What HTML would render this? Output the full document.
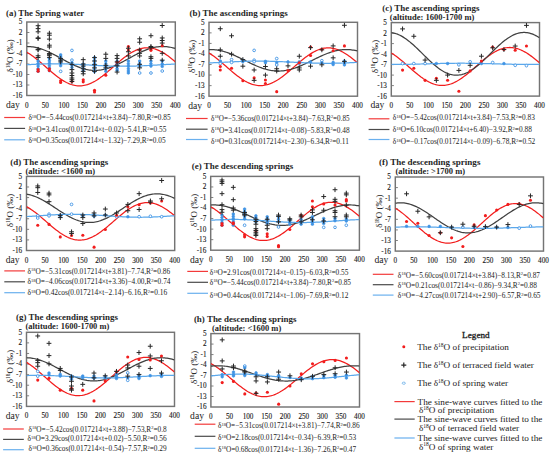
<!DOCTYPE html>
<html><head><meta charset="utf-8"><style>
html,body{margin:0;padding:0;background:#fff;}
body{width:550px;height:456px;overflow:hidden;font-family:"Liberation Serif", serif;}
svg{display:block;}
text{font-family:"Liberation Serif", serif;}
</style></head><body>
<svg width="550" height="456" viewBox="0 0 550 456" font-family="Liberation Serif, serif" fill="#1a1a1a"><rect x="26.80" y="22.00" width="148.50" height="73.50" fill="none" stroke="#747474" stroke-width="1.45"/>
<text x="22.40" y="24.40" font-size="7.2" stroke="#1a1a1a" stroke-width="0.12" text-anchor="end">5</text>
<path d="M26.80 32.50h2.6" stroke="#747474" stroke-width="0.9"/>
<text x="22.40" y="34.90" font-size="7.2" stroke="#1a1a1a" stroke-width="0.12" text-anchor="end">2</text>
<path d="M26.80 43.00h2.6" stroke="#747474" stroke-width="0.9"/>
<text x="22.40" y="45.40" font-size="7.2" stroke="#1a1a1a" stroke-width="0.12" text-anchor="end">-1</text>
<path d="M26.80 53.50h2.6" stroke="#747474" stroke-width="0.9"/>
<text x="22.40" y="55.90" font-size="7.2" stroke="#1a1a1a" stroke-width="0.12" text-anchor="end">-4</text>
<path d="M26.80 64.00h2.6" stroke="#747474" stroke-width="0.9"/>
<text x="22.40" y="66.40" font-size="7.2" stroke="#1a1a1a" stroke-width="0.12" text-anchor="end">-7</text>
<path d="M26.80 74.50h2.6" stroke="#747474" stroke-width="0.9"/>
<text x="22.40" y="76.90" font-size="7.2" stroke="#1a1a1a" stroke-width="0.12" text-anchor="end">-10</text>
<path d="M26.80 85.00h2.6" stroke="#747474" stroke-width="0.9"/>
<text x="22.40" y="87.40" font-size="7.2" stroke="#1a1a1a" stroke-width="0.12" text-anchor="end">-13</text>
<text x="22.40" y="97.90" font-size="7.2" stroke="#1a1a1a" stroke-width="0.12" text-anchor="end">-16</text>
<text x="26.80" y="107.50" font-size="7.2" stroke="#1a1a1a" stroke-width="0.12" text-anchor="middle">0</text>
<text x="45.36" y="107.50" font-size="7.2" stroke="#1a1a1a" stroke-width="0.12" text-anchor="middle">50</text>
<text x="63.92" y="107.50" font-size="7.2" stroke="#1a1a1a" stroke-width="0.12" text-anchor="middle">100</text>
<text x="82.49" y="107.50" font-size="7.2" stroke="#1a1a1a" stroke-width="0.12" text-anchor="middle">150</text>
<text x="101.05" y="107.50" font-size="7.2" stroke="#1a1a1a" stroke-width="0.12" text-anchor="middle">200</text>
<text x="119.61" y="107.50" font-size="7.2" stroke="#1a1a1a" stroke-width="0.12" text-anchor="middle">250</text>
<text x="138.18" y="107.50" font-size="7.2" stroke="#1a1a1a" stroke-width="0.12" text-anchor="middle">300</text>
<text x="156.74" y="107.50" font-size="7.2" stroke="#1a1a1a" stroke-width="0.12" text-anchor="middle">350</text>
<text x="175.30" y="107.50" font-size="7.2" stroke="#1a1a1a" stroke-width="0.12" text-anchor="middle">400</text>
<text x="6.00" y="107.80" font-size="9.6">day</text>
<text transform="translate(13.20 55.85) rotate(-90)" font-size="9.0" text-anchor="middle">&#948;<tspan font-size="5.4" dy="-3.0">18</tspan><tspan dy="3.0">O (&#8240;)</tspan></text>
<clipPath id="ca"><rect x="26.80" y="22.00" width="148.50" height="73.50"/></clipPath>
<g clip-path="url(#ca)">
<polyline points="26.80,52.22 28.04,52.94 29.28,53.72 30.51,54.53 31.75,55.39 32.99,56.28 34.23,57.21 35.46,58.16 36.70,59.15 37.94,60.16 39.17,61.20 40.41,62.25 41.65,63.32 42.89,64.40 44.12,65.49 45.36,66.58 46.60,67.67 47.84,68.76 49.08,69.84 50.31,70.91 51.55,71.97 52.79,73.02 54.03,74.04 55.26,75.04 56.50,76.01 57.74,76.95 58.97,77.86 60.21,78.73 61.45,79.56 62.69,80.35 63.92,81.09 65.16,81.79 66.40,82.44 67.64,83.04 68.88,83.58 70.11,84.07 71.35,84.50 72.59,84.87 73.83,85.19 75.06,85.44 76.30,85.63 77.54,85.76 78.78,85.83 80.01,85.83 81.25,85.78 82.49,85.66 83.72,85.47 84.96,85.23 86.20,84.93 87.44,84.56 88.67,84.14 89.91,83.66 91.15,83.13 92.39,82.54 93.62,81.90 94.86,81.21 96.10,80.47 97.34,79.69 98.58,78.86 99.81,78.00 101.05,77.09 102.29,76.16 103.52,75.19 104.76,74.20 106.00,73.18 107.24,72.14 108.47,71.08 109.71,70.01 110.95,68.93 112.19,67.84 113.42,66.75 114.66,65.66 115.90,64.57 117.14,63.49 118.38,62.42 119.61,61.36 120.85,60.33 122.09,59.31 123.33,58.32 124.56,57.36 125.80,56.42 127.04,55.52 128.28,54.66 129.51,53.84 130.75,53.06 131.99,52.33 133.22,51.64 134.46,51.01 135.70,50.42 136.94,49.89 138.18,49.42 139.41,49.00 140.65,48.64 141.89,48.34 143.12,48.11 144.36,47.93 145.60,47.82 146.84,47.76 148.08,47.77 149.31,47.85 150.55,47.98 151.79,48.18 153.03,48.44 154.26,48.76 155.50,49.14 156.74,49.57 157.98,50.07 159.21,50.62 160.45,51.22 161.69,51.87 162.93,52.57 164.16,53.32 165.40,54.12 166.64,54.95 167.88,55.83 169.11,56.74 170.35,57.68 171.59,58.65 172.83,59.65 174.06,60.68 175.30,61.72" fill="none" stroke="#f21d1d" stroke-width="1.25"/>
<polyline points="26.80,46.50 28.04,46.51 29.28,46.55 30.51,46.64 31.75,46.76 32.99,46.92 34.23,47.12 35.46,47.36 36.70,47.63 37.94,47.94 39.17,48.28 40.41,48.66 41.65,49.07 42.89,49.51 44.12,49.98 45.36,50.48 46.60,51.00 47.84,51.55 49.08,52.12 50.31,52.71 51.55,53.32 52.79,53.94 54.03,54.59 55.26,55.24 56.50,55.90 57.74,56.58 58.97,57.26 60.21,57.94 61.45,58.62 62.69,59.31 63.92,59.99 65.16,60.67 66.40,61.33 67.64,61.99 68.88,62.64 70.11,63.27 71.35,63.89 72.59,64.49 73.83,65.07 75.06,65.63 76.30,66.16 77.54,66.67 78.78,67.15 80.01,67.61 81.25,68.03 82.49,68.42 83.72,68.78 84.96,69.10 86.20,69.39 87.44,69.65 88.67,69.86 89.91,70.04 91.15,70.18 92.39,70.28 93.62,70.35 94.86,70.37 96.10,70.35 97.34,70.30 98.58,70.21 99.81,70.07 101.05,69.90 102.29,69.69 103.52,69.45 104.76,69.16 106.00,68.85 107.24,68.50 108.47,68.11 109.71,67.69 110.95,67.25 112.19,66.77 113.42,66.27 114.66,65.74 115.90,65.18 117.14,64.61 118.38,64.01 119.61,63.40 120.85,62.77 122.09,62.12 123.33,61.47 124.56,60.80 125.80,60.12 127.04,59.44 128.28,58.76 129.51,58.08 130.75,57.39 131.99,56.71 133.22,56.04 134.46,55.37 135.70,54.71 136.94,54.07 138.18,53.44 139.41,52.83 140.65,52.23 141.89,51.66 143.12,51.10 144.36,50.58 145.60,50.07 146.84,49.60 148.08,49.15 149.31,48.74 150.55,48.36 151.79,48.01 153.03,47.69 154.26,47.41 155.50,47.17 156.74,46.96 157.98,46.79 159.21,46.66 160.45,46.57 161.69,46.51 162.93,46.50 164.16,46.53 165.40,46.59 166.64,46.69 167.88,46.84 169.11,47.02 170.35,47.24 171.59,47.49 172.83,47.78 174.06,48.11 175.30,48.47" fill="none" stroke="#404040" stroke-width="1.25"/>
<polyline points="26.80,64.71 28.04,64.64 29.28,64.58 30.51,64.51 31.75,64.45 32.99,64.39 34.23,64.33 35.46,64.27 36.70,64.22 37.94,64.16 39.17,64.12 40.41,64.07 41.65,64.03 42.89,63.99 44.12,63.95 45.36,63.92 46.60,63.89 47.84,63.86 49.08,63.84 50.31,63.82 51.55,63.81 52.79,63.80 54.03,63.79 55.26,63.79 56.50,63.79 57.74,63.80 58.97,63.81 60.21,63.82 61.45,63.84 62.69,63.86 63.92,63.89 65.16,63.92 66.40,63.95 67.64,63.99 68.88,64.03 70.11,64.07 71.35,64.12 72.59,64.16 73.83,64.22 75.06,64.27 76.30,64.33 77.54,64.39 78.78,64.45 80.01,64.51 81.25,64.58 82.49,64.64 83.72,64.71 84.96,64.78 86.20,64.85 87.44,64.92 88.67,64.99 89.91,65.06 91.15,65.13 92.39,65.20 93.62,65.27 94.86,65.34 96.10,65.40 97.34,65.47 98.58,65.53 99.81,65.60 101.05,65.66 102.29,65.72 103.52,65.77 104.76,65.83 106.00,65.88 107.24,65.93 108.47,65.97 109.71,66.01 110.95,66.05 112.19,66.09 113.42,66.12 114.66,66.15 115.90,66.17 117.14,66.19 118.38,66.21 119.61,66.22 120.85,66.23 122.09,66.24 123.33,66.24 124.56,66.24 125.80,66.23 127.04,66.22 128.28,66.20 129.51,66.18 130.75,66.16 131.99,66.14 133.22,66.11 134.46,66.07 135.70,66.03 136.94,65.99 138.18,65.95 139.41,65.90 140.65,65.85 141.89,65.80 143.12,65.75 144.36,65.69 145.60,65.63 146.84,65.57 148.08,65.50 149.31,65.44 150.55,65.37 151.79,65.30 153.03,65.23 154.26,65.16 155.50,65.09 156.74,65.02 157.98,64.95 159.21,64.88 160.45,64.81 161.69,64.75 162.93,64.68 164.16,64.61 165.40,64.54 166.64,64.48 167.88,64.42 169.11,64.36 170.35,64.30 171.59,64.24 172.83,64.19 174.06,64.14 175.30,64.09" fill="none" stroke="#5aa8ec" stroke-width="1.25"/>
<circle cx="38.09" cy="61.02" r="1.35" fill="#3f93e4" stroke="#3f93e4" stroke-width="0.6"/>
<circle cx="38.09" cy="63.58" r="1.35" fill="#3f93e4" stroke="#3f93e4" stroke-width="0.6"/>
<circle cx="38.09" cy="66.10" r="1.35" fill="#3f93e4" stroke="#3f93e4" stroke-width="0.6"/>
<circle cx="38.09" cy="68.72" r="1.35" fill="#3f93e4" stroke="#3f93e4" stroke-width="0.6"/>
<circle cx="38.09" cy="71.28" r="1.35" fill="#3f93e4" stroke="#3f93e4" stroke-width="0.6"/>
<circle cx="38.09" cy="69.60" r="1.55" fill="#f21d1d"/>
<circle cx="38.09" cy="71.28" r="1.55" fill="#f21d1d"/>
<path d="M35.69 25.71H40.49M38.09 23.31V28.11" stroke="#262626" stroke-width="1.0"/>
<path d="M35.69 28.62H40.49M38.09 26.22V31.02" stroke="#262626" stroke-width="1.0"/>
<path d="M35.69 31.80H40.49M38.09 29.40V34.20" stroke="#262626" stroke-width="1.0"/>
<path d="M35.69 37.92H40.49M38.09 35.52V40.32" stroke="#262626" stroke-width="1.0"/>
<path d="M35.69 38.45H40.49M38.09 36.05V40.85" stroke="#262626" stroke-width="1.0"/>
<path d="M35.69 49.30H40.49M38.09 46.90V51.70" stroke="#262626" stroke-width="1.0"/>
<path d="M35.69 49.83H40.49M38.09 47.43V52.23" stroke="#262626" stroke-width="1.0"/>
<path d="M35.69 55.81H40.49M38.09 53.41V58.21" stroke="#262626" stroke-width="1.0"/>
<path d="M35.69 57.49H40.49M38.09 55.09V59.89" stroke="#262626" stroke-width="1.0"/>
<circle cx="49.37" cy="58.40" r="1.35" fill="#3f93e4" stroke="#3f93e4" stroke-width="0.6"/>
<circle cx="49.37" cy="60.85" r="1.35" fill="#3f93e4" stroke="#3f93e4" stroke-width="0.6"/>
<circle cx="49.37" cy="63.30" r="1.35" fill="#3f93e4" stroke="#3f93e4" stroke-width="0.6"/>
<circle cx="49.37" cy="65.75" r="1.35" fill="#3f93e4" stroke="#3f93e4" stroke-width="0.6"/>
<circle cx="49.37" cy="68.20" r="1.35" fill="#3f93e4" stroke="#3f93e4" stroke-width="0.6"/>
<circle cx="49.37" cy="70.65" r="1.35" fill="#3f93e4" stroke="#3f93e4" stroke-width="0.6"/>
<circle cx="49.37" cy="68.72" r="1.55" fill="#f21d1d"/>
<circle cx="49.37" cy="70.44" r="1.55" fill="#f21d1d"/>
<path d="M46.97 33.20H51.77M49.37 30.80V35.60" stroke="#262626" stroke-width="1.0"/>
<path d="M46.97 35.20H51.77M49.37 32.80V37.59" stroke="#262626" stroke-width="1.0"/>
<path d="M46.97 39.11H51.77M49.37 36.71V41.51" stroke="#262626" stroke-width="1.0"/>
<path d="M46.97 45.20H51.77M49.37 42.80V47.60" stroke="#262626" stroke-width="1.0"/>
<path d="M46.97 46.99H51.77M49.37 44.59V49.39" stroke="#262626" stroke-width="1.0"/>
<path d="M46.97 53.61H51.77M49.37 51.21V56.01" stroke="#262626" stroke-width="1.0"/>
<path d="M46.97 54.20H51.77M49.37 51.80V56.60" stroke="#262626" stroke-width="1.0"/>
<path d="M46.97 55.29H51.77M49.37 52.89V57.69" stroke="#262626" stroke-width="1.0"/>
<path d="M46.97 57.35H51.77M49.37 54.95V59.75" stroke="#262626" stroke-width="1.0"/>
<circle cx="60.66" cy="54.90" r="1.35" fill="#3f93e4" stroke="#3f93e4" stroke-width="0.6"/>
<circle cx="60.66" cy="56.65" r="1.35" fill="#3f93e4" stroke="#3f93e4" stroke-width="0.6"/>
<circle cx="60.66" cy="58.40" r="1.35" fill="#3f93e4" stroke="#3f93e4" stroke-width="0.6"/>
<circle cx="60.66" cy="60.85" r="1.35" fill="#3f93e4" stroke="#3f93e4" stroke-width="0.6"/>
<circle cx="60.66" cy="63.30" r="1.35" fill="#3f93e4" stroke="#3f93e4" stroke-width="0.6"/>
<circle cx="60.66" cy="65.75" r="1.35" fill="#3f93e4" stroke="#3f93e4" stroke-width="0.6"/>
<circle cx="60.66" cy="71.35" r="1.35" fill="white" stroke="#3f93e4" stroke-width="0.9"/>
<circle cx="60.66" cy="80.80" r="1.55" fill="#f21d1d"/>
<circle cx="60.66" cy="82.55" r="1.55" fill="#f21d1d"/>
<path d="M58.26 58.40H63.06M60.66 56.00V60.80" stroke="#262626" stroke-width="1.0"/>
<path d="M58.26 60.15H63.06M60.66 57.75V62.55" stroke="#262626" stroke-width="1.0"/>
<path d="M58.26 61.90H63.06M60.66 59.50V64.30" stroke="#262626" stroke-width="1.0"/>
<circle cx="71.94" cy="50.42" r="1.35" fill="white" stroke="#3f93e4" stroke-width="0.9"/>
<circle cx="71.94" cy="60.15" r="1.35" fill="white" stroke="#3f93e4" stroke-width="0.9"/>
<circle cx="71.94" cy="62.60" r="1.35" fill="#3f93e4" stroke="#3f93e4" stroke-width="0.6"/>
<circle cx="71.94" cy="65.30" r="1.35" fill="#3f93e4" stroke="#3f93e4" stroke-width="0.6"/>
<circle cx="71.94" cy="67.50" r="1.35" fill="#3f93e4" stroke="#3f93e4" stroke-width="0.6"/>
<circle cx="71.94" cy="81.50" r="1.55" fill="#f21d1d"/>
<path d="M69.54 64.45H74.34M71.94 62.05V66.86" stroke="#262626" stroke-width="1.0"/>
<path d="M69.54 69.60H74.34M71.94 67.20V72.00" stroke="#262626" stroke-width="1.0"/>
<path d="M69.54 73.00H74.34M71.94 70.59V75.40" stroke="#262626" stroke-width="1.0"/>
<path d="M69.54 75.55H74.34M71.94 73.15V77.95" stroke="#262626" stroke-width="1.0"/>
<path d="M69.54 78.00H74.34M71.94 75.60V80.40" stroke="#262626" stroke-width="1.0"/>
<path d="M69.54 79.75H74.34M71.94 77.35V82.15" stroke="#262626" stroke-width="1.0"/>
<path d="M69.54 81.50H74.34M71.94 79.10V83.90" stroke="#262626" stroke-width="1.0"/>
<circle cx="83.23" cy="64.00" r="1.35" fill="#3f93e4" stroke="#3f93e4" stroke-width="0.6"/>
<circle cx="83.23" cy="66.10" r="1.35" fill="#3f93e4" stroke="#3f93e4" stroke-width="0.6"/>
<circle cx="83.23" cy="68.55" r="1.35" fill="#3f93e4" stroke="#3f93e4" stroke-width="0.6"/>
<circle cx="83.23" cy="71.00" r="1.35" fill="#3f93e4" stroke="#3f93e4" stroke-width="0.6"/>
<circle cx="83.23" cy="79.75" r="1.55" fill="#f21d1d"/>
<circle cx="83.23" cy="81.85" r="1.55" fill="#f21d1d"/>
<path d="M80.83 59.66H85.63M83.23 57.26V62.06" stroke="#262626" stroke-width="1.0"/>
<path d="M80.83 64.00H85.63M83.23 61.60V66.40" stroke="#262626" stroke-width="1.0"/>
<path d="M80.83 66.10H85.63M83.23 63.70V68.50" stroke="#262626" stroke-width="1.0"/>
<path d="M80.83 68.72H85.63M83.23 66.32V71.12" stroke="#262626" stroke-width="1.0"/>
<path d="M80.83 71.35H85.63M83.23 68.95V73.75" stroke="#262626" stroke-width="1.0"/>
<path d="M80.83 73.80H85.63M83.23 71.40V76.20" stroke="#262626" stroke-width="1.0"/>
<circle cx="94.52" cy="57.70" r="1.35" fill="#3f93e4" stroke="#3f93e4" stroke-width="0.6"/>
<circle cx="94.52" cy="60.50" r="1.35" fill="#3f93e4" stroke="#3f93e4" stroke-width="0.6"/>
<circle cx="94.52" cy="63.30" r="1.35" fill="#3f93e4" stroke="#3f93e4" stroke-width="0.6"/>
<circle cx="94.52" cy="66.10" r="1.35" fill="#3f93e4" stroke="#3f93e4" stroke-width="0.6"/>
<circle cx="94.52" cy="68.90" r="1.35" fill="#3f93e4" stroke="#3f93e4" stroke-width="0.6"/>
<circle cx="94.52" cy="71.70" r="1.35" fill="#3f93e4" stroke="#3f93e4" stroke-width="0.6"/>
<circle cx="94.52" cy="90.25" r="1.55" fill="#f21d1d"/>
<circle cx="94.52" cy="92.00" r="1.55" fill="#f21d1d"/>
<path d="M92.12 57.59H96.92M94.52 55.20V59.99" stroke="#262626" stroke-width="1.0"/>
<path d="M92.12 61.02H96.92M94.52 58.62V63.42" stroke="#262626" stroke-width="1.0"/>
<path d="M92.12 64.70H96.92M94.52 62.30V67.10" stroke="#262626" stroke-width="1.0"/>
<path d="M92.12 67.85H96.92M94.52 65.45V70.25" stroke="#262626" stroke-width="1.0"/>
<path d="M92.12 71.35H96.92M94.52 68.95V73.75" stroke="#262626" stroke-width="1.0"/>
<circle cx="105.80" cy="61.02" r="1.35" fill="#3f93e4" stroke="#3f93e4" stroke-width="0.6"/>
<circle cx="105.80" cy="63.65" r="1.35" fill="#3f93e4" stroke="#3f93e4" stroke-width="0.6"/>
<circle cx="105.80" cy="66.10" r="1.35" fill="#3f93e4" stroke="#3f93e4" stroke-width="0.6"/>
<circle cx="105.80" cy="68.72" r="1.35" fill="#3f93e4" stroke="#3f93e4" stroke-width="0.6"/>
<circle cx="105.80" cy="71.28" r="1.35" fill="#3f93e4" stroke="#3f93e4" stroke-width="0.6"/>
<circle cx="105.80" cy="75.20" r="1.55" fill="#f21d1d"/>
<path d="M103.40 54.20H108.20M105.80 51.80V56.60" stroke="#262626" stroke-width="1.0"/>
<path d="M103.40 58.40H108.20M105.80 56.00V60.80" stroke="#262626" stroke-width="1.0"/>
<path d="M103.40 65.30H108.20M105.80 62.90V67.70" stroke="#262626" stroke-width="1.0"/>
<path d="M103.40 67.85H108.20M105.80 65.45V70.25" stroke="#262626" stroke-width="1.0"/>
<circle cx="117.09" cy="61.20" r="1.35" fill="#3f93e4" stroke="#3f93e4" stroke-width="0.6"/>
<circle cx="117.09" cy="63.65" r="1.35" fill="#3f93e4" stroke="#3f93e4" stroke-width="0.6"/>
<circle cx="117.09" cy="66.10" r="1.35" fill="#3f93e4" stroke="#3f93e4" stroke-width="0.6"/>
<circle cx="117.09" cy="68.55" r="1.35" fill="#3f93e4" stroke="#3f93e4" stroke-width="0.6"/>
<circle cx="117.09" cy="70.30" r="1.35" fill="#3f93e4" stroke="#3f93e4" stroke-width="0.6"/>
<circle cx="117.09" cy="62.25" r="1.55" fill="#f21d1d"/>
<path d="M114.69 55.60H119.49M117.09 53.20V58.00" stroke="#262626" stroke-width="1.0"/>
<path d="M114.69 58.40H119.49M117.09 56.00V60.80" stroke="#262626" stroke-width="1.0"/>
<path d="M114.69 61.90H119.49M117.09 59.50V64.30" stroke="#262626" stroke-width="1.0"/>
<path d="M114.69 65.75H119.49M117.09 63.35V68.15" stroke="#262626" stroke-width="1.0"/>
<path d="M114.69 72.05H119.49M117.09 69.65V74.45" stroke="#262626" stroke-width="1.0"/>
<circle cx="128.37" cy="61.02" r="1.35" fill="#3f93e4" stroke="#3f93e4" stroke-width="0.6"/>
<circle cx="128.37" cy="63.65" r="1.35" fill="#3f93e4" stroke="#3f93e4" stroke-width="0.6"/>
<circle cx="128.37" cy="66.10" r="1.35" fill="#3f93e4" stroke="#3f93e4" stroke-width="0.6"/>
<circle cx="128.37" cy="68.72" r="1.35" fill="#3f93e4" stroke="#3f93e4" stroke-width="0.6"/>
<circle cx="128.37" cy="71.00" r="1.35" fill="#3f93e4" stroke="#3f93e4" stroke-width="0.6"/>
<circle cx="128.37" cy="73.00" r="1.35" fill="#3f93e4" stroke="#3f93e4" stroke-width="0.6"/>
<circle cx="128.37" cy="46.50" r="1.55" fill="#f21d1d"/>
<circle cx="128.37" cy="49.93" r="1.55" fill="#f21d1d"/>
<path d="M125.97 48.25H130.77M128.37 45.85V50.65" stroke="#262626" stroke-width="1.0"/>
<path d="M125.97 51.75H130.77M128.37 49.35V54.15" stroke="#262626" stroke-width="1.0"/>
<path d="M125.97 55.95H130.77M128.37 53.55V58.35" stroke="#262626" stroke-width="1.0"/>
<circle cx="139.66" cy="61.02" r="1.35" fill="#3f93e4" stroke="#3f93e4" stroke-width="0.6"/>
<circle cx="139.66" cy="63.65" r="1.35" fill="#3f93e4" stroke="#3f93e4" stroke-width="0.6"/>
<circle cx="139.66" cy="66.10" r="1.35" fill="#3f93e4" stroke="#3f93e4" stroke-width="0.6"/>
<circle cx="139.66" cy="73.00" r="1.35" fill="white" stroke="#3f93e4" stroke-width="0.9"/>
<circle cx="139.66" cy="50.00" r="1.55" fill="#f21d1d"/>
<path d="M137.26 38.80H142.06M139.66 36.40V41.20" stroke="#262626" stroke-width="1.0"/>
<path d="M137.26 42.23H142.06M139.66 39.83V44.63" stroke="#262626" stroke-width="1.0"/>
<path d="M137.26 49.93H142.06M139.66 47.53V52.33" stroke="#262626" stroke-width="1.0"/>
<path d="M137.26 53.32H142.06M139.66 50.92V55.72" stroke="#262626" stroke-width="1.0"/>
<path d="M137.26 55.95H142.06M139.66 53.55V58.35" stroke="#262626" stroke-width="1.0"/>
<path d="M137.26 64.35H142.06M139.66 61.95V66.75" stroke="#262626" stroke-width="1.0"/>
<path d="M137.26 67.85H142.06M139.66 65.45V70.25" stroke="#262626" stroke-width="1.0"/>
<circle cx="150.95" cy="61.02" r="1.35" fill="#3f93e4" stroke="#3f93e4" stroke-width="0.6"/>
<circle cx="150.95" cy="63.65" r="1.35" fill="#3f93e4" stroke="#3f93e4" stroke-width="0.6"/>
<circle cx="150.95" cy="66.10" r="1.35" fill="#3f93e4" stroke="#3f93e4" stroke-width="0.6"/>
<circle cx="150.95" cy="73.00" r="1.35" fill="white" stroke="#3f93e4" stroke-width="0.9"/>
<circle cx="150.95" cy="49.06" r="1.55" fill="#f21d1d"/>
<circle cx="150.95" cy="50.35" r="1.55" fill="#f21d1d"/>
<path d="M148.55 35.72H153.35M150.95 33.32V38.12" stroke="#262626" stroke-width="1.0"/>
<path d="M148.55 46.50H153.35M150.95 44.10V48.90" stroke="#262626" stroke-width="1.0"/>
<path d="M148.55 47.55H153.35M150.95 45.15V49.95" stroke="#262626" stroke-width="1.0"/>
<path d="M148.55 56.76H153.35M150.95 54.36V59.16" stroke="#262626" stroke-width="1.0"/>
<path d="M148.55 58.40H153.35M150.95 56.00V60.80" stroke="#262626" stroke-width="1.0"/>
<circle cx="162.23" cy="61.02" r="1.35" fill="#3f93e4" stroke="#3f93e4" stroke-width="0.6"/>
<circle cx="162.23" cy="64.00" r="1.35" fill="#3f93e4" stroke="#3f93e4" stroke-width="0.6"/>
<circle cx="162.23" cy="66.45" r="1.35" fill="#3f93e4" stroke="#3f93e4" stroke-width="0.6"/>
<circle cx="162.23" cy="71.00" r="1.35" fill="white" stroke="#3f93e4" stroke-width="0.9"/>
<circle cx="162.23" cy="45.66" r="1.55" fill="#f21d1d"/>
<path d="M159.83 25.50H164.63M162.23 23.10V27.90" stroke="#262626" stroke-width="1.0"/>
<path d="M159.83 37.96H164.63M162.23 35.56V40.36" stroke="#262626" stroke-width="1.0"/>
<path d="M159.83 40.52H164.63M162.23 38.12V42.91" stroke="#262626" stroke-width="1.0"/>
<path d="M159.83 43.07H164.63M162.23 40.67V45.47" stroke="#262626" stroke-width="1.0"/>
<path d="M159.83 53.32H164.63M162.23 50.92V55.72" stroke="#262626" stroke-width="1.0"/>
<path d="M159.83 60.15H164.63M162.23 57.75V62.55" stroke="#262626" stroke-width="1.0"/>
</g>
<rect x="209.00" y="22.30" width="148.50" height="73.90" fill="none" stroke="#747474" stroke-width="1.45"/>
<text x="204.60" y="24.70" font-size="7.2" stroke="#1a1a1a" stroke-width="0.12" text-anchor="end">5</text>
<path d="M209.00 32.86h2.6" stroke="#747474" stroke-width="0.9"/>
<text x="204.60" y="35.26" font-size="7.2" stroke="#1a1a1a" stroke-width="0.12" text-anchor="end">2</text>
<path d="M209.00 43.41h2.6" stroke="#747474" stroke-width="0.9"/>
<text x="204.60" y="45.81" font-size="7.2" stroke="#1a1a1a" stroke-width="0.12" text-anchor="end">-1</text>
<path d="M209.00 53.97h2.6" stroke="#747474" stroke-width="0.9"/>
<text x="204.60" y="56.37" font-size="7.2" stroke="#1a1a1a" stroke-width="0.12" text-anchor="end">-4</text>
<path d="M209.00 64.53h2.6" stroke="#747474" stroke-width="0.9"/>
<text x="204.60" y="66.93" font-size="7.2" stroke="#1a1a1a" stroke-width="0.12" text-anchor="end">-7</text>
<path d="M209.00 75.09h2.6" stroke="#747474" stroke-width="0.9"/>
<text x="204.60" y="77.49" font-size="7.2" stroke="#1a1a1a" stroke-width="0.12" text-anchor="end">-10</text>
<path d="M209.00 85.64h2.6" stroke="#747474" stroke-width="0.9"/>
<text x="204.60" y="88.04" font-size="7.2" stroke="#1a1a1a" stroke-width="0.12" text-anchor="end">-13</text>
<text x="204.60" y="98.60" font-size="7.2" stroke="#1a1a1a" stroke-width="0.12" text-anchor="end">-16</text>
<text x="209.00" y="108.20" font-size="7.2" stroke="#1a1a1a" stroke-width="0.12" text-anchor="middle">0</text>
<text x="227.56" y="108.20" font-size="7.2" stroke="#1a1a1a" stroke-width="0.12" text-anchor="middle">50</text>
<text x="246.12" y="108.20" font-size="7.2" stroke="#1a1a1a" stroke-width="0.12" text-anchor="middle">100</text>
<text x="264.69" y="108.20" font-size="7.2" stroke="#1a1a1a" stroke-width="0.12" text-anchor="middle">150</text>
<text x="283.25" y="108.20" font-size="7.2" stroke="#1a1a1a" stroke-width="0.12" text-anchor="middle">200</text>
<text x="301.81" y="108.20" font-size="7.2" stroke="#1a1a1a" stroke-width="0.12" text-anchor="middle">250</text>
<text x="320.38" y="108.20" font-size="7.2" stroke="#1a1a1a" stroke-width="0.12" text-anchor="middle">300</text>
<text x="338.94" y="108.20" font-size="7.2" stroke="#1a1a1a" stroke-width="0.12" text-anchor="middle">350</text>
<text x="357.50" y="108.20" font-size="7.2" stroke="#1a1a1a" stroke-width="0.12" text-anchor="middle">400</text>
<text x="188.20" y="108.50" font-size="9.6">day</text>
<text transform="translate(195.40 56.35) rotate(-90)" font-size="9.0" text-anchor="middle">&#948;<tspan font-size="5.4" dy="-3.0">18</tspan><tspan dy="3.0">O (&#8240;)</tspan></text>
<clipPath id="cb"><rect x="209.00" y="22.30" width="148.50" height="73.90"/></clipPath>
<g clip-path="url(#cb)">
<polyline points="209.00,53.05 210.24,53.82 211.47,54.63 212.71,55.48 213.95,56.36 215.19,57.28 216.43,58.24 217.66,59.21 218.90,60.22 220.14,61.24 221.38,62.29 222.61,63.35 223.85,64.42 225.09,65.49 226.32,66.57 227.56,67.66 228.80,68.74 230.04,69.81 231.28,70.87 232.51,71.92 233.75,72.95 234.99,73.96 236.22,74.95 237.46,75.91 238.70,76.84 239.94,77.74 241.18,78.60 242.41,79.42 243.65,80.20 244.89,80.94 246.12,81.63 247.36,82.27 248.60,82.86 249.84,83.39 251.07,83.87 252.31,84.30 253.55,84.66 254.79,84.97 256.02,85.22 257.26,85.41 258.50,85.53 259.74,85.60 260.98,85.60 262.21,85.54 263.45,85.42 264.69,85.24 265.93,84.99 267.16,84.69 268.40,84.32 269.64,83.90 270.88,83.43 272.11,82.89 273.35,82.31 274.59,81.67 275.82,80.98 277.06,80.25 278.30,79.47 279.54,78.65 280.77,77.80 282.01,76.90 283.25,75.97 284.49,75.01 285.73,74.03 286.96,73.02 288.20,71.99 289.44,70.94 290.68,69.88 291.91,68.81 293.15,67.73 294.39,66.65 295.62,65.57 296.86,64.49 298.10,63.42 299.34,62.36 300.57,61.31 301.81,60.29 303.05,59.28 304.29,58.30 305.52,57.35 306.76,56.42 308.00,55.54 309.24,54.68 310.48,53.87 311.71,53.10 312.95,52.38 314.19,51.70 315.43,51.07 316.66,50.50 317.90,49.97 319.14,49.51 320.38,49.10 321.61,48.74 322.85,48.45 324.09,48.22 325.32,48.05 326.56,47.93 327.80,47.89 329.04,47.90 330.27,47.97 331.51,48.11 332.75,48.31 333.99,48.57 335.23,48.89 336.46,49.27 337.70,49.70 338.94,50.19 340.18,50.74 341.41,51.34 342.65,51.99 343.89,52.69 345.12,53.43 346.36,54.22 347.60,55.05 348.84,55.91 350.07,56.82 351.31,57.75 352.55,58.72 353.79,59.71 355.02,60.73 356.26,61.76 357.50,62.81" fill="none" stroke="#f21d1d" stroke-width="1.25"/>
<polyline points="209.00,49.61 210.24,49.58 211.47,49.58 212.71,49.62 213.95,49.69 215.19,49.80 216.43,49.95 217.66,50.12 218.90,50.33 220.14,50.58 221.38,50.85 222.61,51.16 223.85,51.50 225.09,51.87 226.32,52.26 227.56,52.68 228.80,53.13 230.04,53.60 231.28,54.09 232.51,54.60 233.75,55.13 234.99,55.68 236.22,56.24 237.46,56.82 238.70,57.40 239.94,58.00 241.18,58.61 242.41,59.22 243.65,59.83 244.89,60.45 246.12,61.06 247.36,61.68 248.60,62.28 249.84,62.89 251.07,63.48 252.31,64.06 253.55,64.63 254.79,65.19 256.02,65.73 257.26,66.25 258.50,66.75 259.74,67.23 260.98,67.69 262.21,68.13 263.45,68.54 264.69,68.92 265.93,69.27 267.16,69.59 268.40,69.89 269.64,70.15 270.88,70.38 272.11,70.57 273.35,70.74 274.59,70.86 275.82,70.96 277.06,71.02 278.30,71.04 279.54,71.03 280.77,70.98 282.01,70.90 283.25,70.78 284.49,70.62 285.73,70.44 286.96,70.22 288.20,69.97 289.44,69.68 290.68,69.37 291.91,69.02 293.15,68.65 294.39,68.25 295.62,67.82 296.86,67.37 298.10,66.90 299.34,66.40 300.57,65.88 301.81,65.35 303.05,64.79 304.29,64.23 305.52,63.65 306.76,63.06 308.00,62.46 309.24,61.85 310.48,61.24 311.71,60.63 312.95,60.01 314.19,59.40 315.43,58.78 316.66,58.18 317.90,57.58 319.14,56.99 320.38,56.41 321.61,55.84 322.85,55.29 324.09,54.75 325.32,54.23 326.56,53.74 327.80,53.26 329.04,52.81 330.27,52.38 331.51,51.98 332.75,51.60 333.99,51.26 335.23,50.94 336.46,50.66 337.70,50.40 338.94,50.18 340.18,49.99 341.41,49.84 342.65,49.72 343.89,49.64 345.12,49.59 346.36,49.57 347.60,49.59 348.84,49.65 350.07,49.74 351.31,49.87 352.55,50.03 353.79,50.22 355.02,50.45 356.26,50.71 357.50,51.00" fill="none" stroke="#404040" stroke-width="1.25"/>
<polyline points="209.00,62.93 210.24,62.88 211.47,62.83 212.71,62.78 213.95,62.73 215.19,62.67 216.43,62.62 217.66,62.56 218.90,62.50 220.14,62.44 221.38,62.37 222.61,62.31 223.85,62.25 225.09,62.19 226.32,62.13 227.56,62.06 228.80,62.00 230.04,61.94 231.28,61.88 232.51,61.82 233.75,61.76 234.99,61.71 236.22,61.65 237.46,61.60 238.70,61.55 239.94,61.50 241.18,61.45 242.41,61.41 243.65,61.37 244.89,61.33 246.12,61.29 247.36,61.26 248.60,61.23 249.84,61.20 251.07,61.18 252.31,61.16 253.55,61.14 254.79,61.13 256.02,61.12 257.26,61.12 258.50,61.12 259.74,61.12 260.98,61.12 262.21,61.13 263.45,61.14 264.69,61.16 265.93,61.18 267.16,61.20 268.40,61.23 269.64,61.25 270.88,61.29 272.11,61.32 273.35,61.36 274.59,61.40 275.82,61.44 277.06,61.49 278.30,61.54 279.54,61.59 280.77,61.64 282.01,61.70 283.25,61.75 284.49,61.81 285.73,61.87 286.96,61.93 288.20,61.99 289.44,62.05 290.68,62.11 291.91,62.18 293.15,62.24 294.39,62.30 295.62,62.36 296.86,62.43 298.10,62.49 299.34,62.55 300.57,62.61 301.81,62.66 303.05,62.72 304.29,62.77 305.52,62.83 306.76,62.88 308.00,62.93 309.24,62.97 310.48,63.01 311.71,63.05 312.95,63.09 314.19,63.13 315.43,63.16 316.66,63.19 317.90,63.21 319.14,63.24 320.38,63.26 321.61,63.27 322.85,63.28 324.09,63.29 325.32,63.30 326.56,63.30 327.80,63.29 329.04,63.29 330.27,63.28 331.51,63.27 332.75,63.25 333.99,63.23 335.23,63.21 336.46,63.18 337.70,63.15 338.94,63.12 340.18,63.08 341.41,63.04 342.65,63.00 343.89,62.96 345.12,62.91 346.36,62.86 347.60,62.81 348.84,62.76 350.07,62.70 351.31,62.64 352.55,62.59 353.79,62.53 355.02,62.47 356.26,62.41 357.50,62.34" fill="none" stroke="#5aa8ec" stroke-width="1.25"/>
<circle cx="220.29" cy="61.01" r="1.35" fill="#3f93e4" stroke="#3f93e4" stroke-width="0.6"/>
<circle cx="220.29" cy="63.61" r="1.35" fill="white" stroke="#3f93e4" stroke-width="0.9"/>
<circle cx="220.29" cy="66.53" r="1.55" fill="#f21d1d"/>
<circle cx="220.29" cy="69.98" r="1.55" fill="#f21d1d"/>
<path d="M217.89 28.74H222.69M220.29 26.34V31.14" stroke="#262626" stroke-width="1.0"/>
<path d="M217.89 49.85H222.69M220.29 47.45V52.25" stroke="#262626" stroke-width="1.0"/>
<path d="M217.89 56.22H222.69M220.29 53.82V58.62" stroke="#262626" stroke-width="1.0"/>
<circle cx="231.57" cy="59.60" r="1.35" fill="white" stroke="#3f93e4" stroke-width="0.9"/>
<circle cx="231.57" cy="62.42" r="1.35" fill="white" stroke="#3f93e4" stroke-width="0.9"/>
<circle cx="231.57" cy="68.26" r="1.55" fill="#f21d1d"/>
<path d="M229.17 35.78H233.97M231.57 33.38V38.18" stroke="#262626" stroke-width="1.0"/>
<path d="M229.17 54.15H233.97M231.57 51.75V56.55" stroke="#262626" stroke-width="1.0"/>
<circle cx="242.86" cy="60.31" r="1.35" fill="#3f93e4" stroke="#3f93e4" stroke-width="0.6"/>
<circle cx="242.86" cy="61.71" r="1.35" fill="#3f93e4" stroke="#3f93e4" stroke-width="0.6"/>
<circle cx="242.86" cy="80.72" r="1.55" fill="#f21d1d"/>
<path d="M240.46 59.60H245.26M242.86 57.20V62.00" stroke="#262626" stroke-width="1.0"/>
<path d="M240.46 66.18H245.26M242.86 63.78V68.58" stroke="#262626" stroke-width="1.0"/>
<circle cx="254.14" cy="50.38" r="1.35" fill="white" stroke="#3f93e4" stroke-width="0.9"/>
<circle cx="254.14" cy="60.16" r="1.35" fill="white" stroke="#3f93e4" stroke-width="0.9"/>
<circle cx="254.14" cy="61.71" r="1.35" fill="white" stroke="#3f93e4" stroke-width="0.9"/>
<circle cx="254.14" cy="77.90" r="1.55" fill="#f21d1d"/>
<path d="M251.74 69.98H256.54M254.14 67.58V72.38" stroke="#262626" stroke-width="1.0"/>
<path d="M251.74 80.36H256.54M254.14 77.96V82.76" stroke="#262626" stroke-width="1.0"/>
<circle cx="265.43" cy="61.36" r="1.35" fill="#3f93e4" stroke="#3f93e4" stroke-width="0.6"/>
<circle cx="265.43" cy="62.77" r="1.35" fill="#3f93e4" stroke="#3f93e4" stroke-width="0.6"/>
<circle cx="265.43" cy="80.01" r="1.55" fill="#f21d1d"/>
<circle cx="265.43" cy="83.53" r="1.55" fill="#f21d1d"/>
<path d="M263.03 66.53H267.83M265.43 64.13V68.93" stroke="#262626" stroke-width="1.0"/>
<path d="M263.03 75.09H267.83M265.43 72.69V77.49" stroke="#262626" stroke-width="1.0"/>
<circle cx="276.72" cy="58.55" r="1.35" fill="white" stroke="#3f93e4" stroke-width="0.9"/>
<circle cx="276.72" cy="62.77" r="1.35" fill="#3f93e4" stroke="#3f93e4" stroke-width="0.6"/>
<circle cx="276.72" cy="64.88" r="1.35" fill="white" stroke="#3f93e4" stroke-width="0.9"/>
<circle cx="276.72" cy="91.63" r="1.55" fill="#f21d1d"/>
<path d="M274.32 68.75H279.12M276.72 66.35V71.15" stroke="#262626" stroke-width="1.0"/>
<path d="M274.32 71.00H279.12M276.72 68.60V73.40" stroke="#262626" stroke-width="1.0"/>
<circle cx="288.00" cy="61.89" r="1.35" fill="#3f93e4" stroke="#3f93e4" stroke-width="0.6"/>
<circle cx="288.00" cy="70.51" r="1.55" fill="#f21d1d"/>
<path d="M285.60 65.87H290.40M288.00 63.47V68.27" stroke="#262626" stroke-width="1.0"/>
<circle cx="299.29" cy="61.89" r="1.35" fill="#3f93e4" stroke="#3f93e4" stroke-width="0.6"/>
<circle cx="299.29" cy="63.47" r="1.35" fill="#3f93e4" stroke="#3f93e4" stroke-width="0.6"/>
<circle cx="299.29" cy="62.77" r="1.55" fill="#f21d1d"/>
<path d="M296.89 56.22H301.69M299.29 53.82V58.62" stroke="#262626" stroke-width="1.0"/>
<path d="M296.89 67.91H301.69M299.29 65.51V70.31" stroke="#262626" stroke-width="1.0"/>
<path d="M296.89 69.98H301.69M299.29 67.58V72.38" stroke="#262626" stroke-width="1.0"/>
<circle cx="310.57" cy="61.89" r="1.35" fill="#3f93e4" stroke="#3f93e4" stroke-width="0.6"/>
<circle cx="310.57" cy="46.93" r="1.55" fill="#f21d1d"/>
<circle cx="310.57" cy="55.56" r="1.55" fill="#f21d1d"/>
<path d="M308.17 47.64H312.97M310.57 45.24V50.04" stroke="#262626" stroke-width="1.0"/>
<path d="M308.17 66.18H312.97M310.57 63.78V68.58" stroke="#262626" stroke-width="1.0"/>
<circle cx="321.86" cy="60.69" r="1.35" fill="white" stroke="#3f93e4" stroke-width="0.9"/>
<circle cx="321.86" cy="62.77" r="1.35" fill="#3f93e4" stroke="#3f93e4" stroke-width="0.6"/>
<circle cx="321.86" cy="49.36" r="1.55" fill="#f21d1d"/>
<path d="M319.46 49.85H324.26M321.86 47.45V52.25" stroke="#262626" stroke-width="1.0"/>
<path d="M319.46 64.81H324.26M321.86 62.41V67.21" stroke="#262626" stroke-width="1.0"/>
<circle cx="333.15" cy="62.42" r="1.35" fill="#3f93e4" stroke="#3f93e4" stroke-width="0.6"/>
<circle cx="333.15" cy="64.53" r="1.35" fill="#3f93e4" stroke="#3f93e4" stroke-width="0.6"/>
<circle cx="333.15" cy="50.73" r="1.55" fill="#f21d1d"/>
<path d="M330.75 45.91H335.55M333.15 43.51V48.31" stroke="#262626" stroke-width="1.0"/>
<path d="M330.75 57.84H335.55M333.15 55.44V60.24" stroke="#262626" stroke-width="1.0"/>
<circle cx="344.43" cy="61.01" r="1.35" fill="#3f93e4" stroke="#3f93e4" stroke-width="0.6"/>
<circle cx="344.43" cy="63.12" r="1.35" fill="#3f93e4" stroke="#3f93e4" stroke-width="0.6"/>
<circle cx="344.43" cy="64.88" r="1.35" fill="#3f93e4" stroke="#3f93e4" stroke-width="0.6"/>
<circle cx="344.43" cy="45.91" r="1.55" fill="#f21d1d"/>
<path d="M342.03 25.29H346.83M344.43 22.89V27.69" stroke="#262626" stroke-width="1.0"/>
<path d="M342.03 61.36H346.83M344.43 58.96V63.76" stroke="#262626" stroke-width="1.0"/>
</g>
<rect x="391.30" y="22.60" width="148.20" height="73.50" fill="none" stroke="#747474" stroke-width="1.45"/>
<text x="386.90" y="25.00" font-size="7.2" stroke="#1a1a1a" stroke-width="0.12" text-anchor="end">5</text>
<path d="M391.30 33.10h2.6" stroke="#747474" stroke-width="0.9"/>
<text x="386.90" y="35.50" font-size="7.2" stroke="#1a1a1a" stroke-width="0.12" text-anchor="end">2</text>
<path d="M391.30 43.60h2.6" stroke="#747474" stroke-width="0.9"/>
<text x="386.90" y="46.00" font-size="7.2" stroke="#1a1a1a" stroke-width="0.12" text-anchor="end">-1</text>
<path d="M391.30 54.10h2.6" stroke="#747474" stroke-width="0.9"/>
<text x="386.90" y="56.50" font-size="7.2" stroke="#1a1a1a" stroke-width="0.12" text-anchor="end">-4</text>
<path d="M391.30 64.60h2.6" stroke="#747474" stroke-width="0.9"/>
<text x="386.90" y="67.00" font-size="7.2" stroke="#1a1a1a" stroke-width="0.12" text-anchor="end">-7</text>
<path d="M391.30 75.10h2.6" stroke="#747474" stroke-width="0.9"/>
<text x="386.90" y="77.50" font-size="7.2" stroke="#1a1a1a" stroke-width="0.12" text-anchor="end">-10</text>
<path d="M391.30 85.60h2.6" stroke="#747474" stroke-width="0.9"/>
<text x="386.90" y="88.00" font-size="7.2" stroke="#1a1a1a" stroke-width="0.12" text-anchor="end">-13</text>
<text x="386.90" y="98.50" font-size="7.2" stroke="#1a1a1a" stroke-width="0.12" text-anchor="end">-16</text>
<text x="391.30" y="108.10" font-size="7.2" stroke="#1a1a1a" stroke-width="0.12" text-anchor="middle">0</text>
<text x="409.82" y="108.10" font-size="7.2" stroke="#1a1a1a" stroke-width="0.12" text-anchor="middle">50</text>
<text x="428.35" y="108.10" font-size="7.2" stroke="#1a1a1a" stroke-width="0.12" text-anchor="middle">100</text>
<text x="446.88" y="108.10" font-size="7.2" stroke="#1a1a1a" stroke-width="0.12" text-anchor="middle">150</text>
<text x="465.40" y="108.10" font-size="7.2" stroke="#1a1a1a" stroke-width="0.12" text-anchor="middle">200</text>
<text x="483.93" y="108.10" font-size="7.2" stroke="#1a1a1a" stroke-width="0.12" text-anchor="middle">250</text>
<text x="502.45" y="108.10" font-size="7.2" stroke="#1a1a1a" stroke-width="0.12" text-anchor="middle">300</text>
<text x="520.98" y="108.10" font-size="7.2" stroke="#1a1a1a" stroke-width="0.12" text-anchor="middle">350</text>
<text x="539.50" y="108.10" font-size="7.2" stroke="#1a1a1a" stroke-width="0.12" text-anchor="middle">400</text>
<text x="370.50" y="108.40" font-size="9.6">day</text>
<text transform="translate(377.70 56.45) rotate(-90)" font-size="9.0" text-anchor="middle">&#948;<tspan font-size="5.4" dy="-3.0">18</tspan><tspan dy="3.0">O (&#8240;)</tspan></text>
<clipPath id="cc"><rect x="391.30" y="22.60" width="148.20" height="73.50"/></clipPath>
<g clip-path="url(#cc)">
<polyline points="391.30,52.95 392.54,53.73 393.77,54.56 395.00,55.43 396.24,56.33 397.48,57.27 398.71,58.24 399.94,59.23 401.18,60.25 402.42,61.29 403.65,62.34 404.88,63.41 406.12,64.49 407.36,65.57 408.59,66.66 409.82,67.75 411.06,68.83 412.30,69.91 413.53,70.97 414.76,72.02 416.00,73.05 417.24,74.06 418.47,75.05 419.71,76.00 420.94,76.93 422.18,77.82 423.41,78.67 424.64,79.48 425.88,80.25 427.12,80.97 428.35,81.65 429.59,82.28 430.82,82.85 432.06,83.37 433.29,83.84 434.53,84.24 435.76,84.59 437.00,84.88 438.23,85.11 439.47,85.28 440.70,85.38 441.94,85.42 443.17,85.40 444.41,85.32 445.64,85.18 446.88,84.97 448.11,84.71 449.35,84.38 450.58,83.99 451.81,83.55 453.05,83.05 454.29,82.50 455.52,81.89 456.75,81.23 457.99,80.52 459.23,79.77 460.46,78.97 461.69,78.14 462.93,77.26 464.17,76.35 465.40,75.40 466.63,74.43 467.87,73.43 469.11,72.41 470.34,71.36 471.57,70.30 472.81,69.23 474.05,68.15 475.28,67.06 476.51,65.98 477.75,64.89 478.99,63.81 480.22,62.73 481.46,61.67 482.69,60.63 483.93,59.60 485.16,58.60 486.39,57.62 487.63,56.67 488.87,55.76 490.10,54.88 491.34,54.04 492.57,53.23 493.81,52.47 495.04,51.76 496.27,51.10 497.51,50.49 498.75,49.92 499.98,49.42 501.22,48.97 502.45,48.57 503.69,48.24 504.92,47.97 506.16,47.75 507.39,47.60 508.62,47.51 509.86,47.49 511.10,47.52 512.33,47.62 513.57,47.78 514.80,48.00 516.03,48.28 517.27,48.62 518.50,49.02 519.74,49.48 520.98,49.99 522.21,50.56 523.45,51.18 524.68,51.85 525.91,52.57 527.15,53.33 528.38,54.14 529.62,54.99 530.86,55.88 532.09,56.80 533.33,57.75 534.56,58.73 535.79,59.73 537.03,60.76 538.26,61.81 539.50,62.87" fill="none" stroke="#f21d1d" stroke-width="1.25"/>
<polyline points="391.30,32.62 392.54,32.79 393.77,33.04 395.00,33.36 396.24,33.74 397.48,34.19 398.71,34.70 399.94,35.28 401.18,35.91 402.42,36.61 403.65,37.36 404.88,38.17 406.12,39.03 407.36,39.94 408.59,40.89 409.82,41.88 411.06,42.92 412.30,43.99 413.53,45.09 414.76,46.22 416.00,47.38 417.24,48.56 418.47,49.75 419.71,50.96 420.94,52.18 422.18,53.40 423.41,54.63 424.64,55.85 425.88,57.07 427.12,58.27 428.35,59.46 429.59,60.63 430.82,61.78 432.06,62.91 433.29,64.00 434.53,65.06 435.76,66.08 437.00,67.06 438.23,68.00 439.47,68.89 440.70,69.74 441.94,70.53 443.17,71.26 444.41,71.94 445.64,72.56 446.88,73.11 448.11,73.60 449.35,74.03 450.58,74.39 451.81,74.69 453.05,74.91 454.29,75.07 455.52,75.15 456.75,75.17 457.99,75.11 459.23,74.99 460.46,74.79 461.69,74.53 462.93,74.20 464.17,73.80 465.40,73.33 466.63,72.80 467.87,72.21 469.11,71.56 470.34,70.85 471.57,70.08 472.81,69.26 474.05,68.39 475.28,67.47 476.51,66.51 477.75,65.50 478.99,64.46 480.22,63.38 481.46,62.27 482.69,61.13 483.93,59.97 485.16,58.78 486.39,57.59 487.63,56.37 488.87,55.15 490.10,53.93 491.34,52.71 492.57,51.49 493.81,50.27 495.04,49.07 496.27,47.88 497.51,46.72 498.75,45.58 499.98,44.46 501.22,43.37 502.45,42.32 503.69,41.31 504.92,40.34 506.16,39.41 507.39,38.53 508.62,37.70 509.86,36.93 511.10,36.21 512.33,35.54 513.57,34.94 514.80,34.40 516.03,33.92 517.27,33.51 518.50,33.17 519.74,32.89 520.98,32.68 522.21,32.55 523.45,32.48 524.68,32.48 525.91,32.55 527.15,32.70 528.38,32.91 529.62,33.19 530.86,33.54 532.09,33.95 533.33,34.43 534.56,34.98 535.79,35.59 537.03,36.25 538.26,36.98 539.50,37.76" fill="none" stroke="#404040" stroke-width="1.25"/>
<polyline points="391.30,64.42 392.54,64.42 393.77,64.42 395.00,64.42 396.24,64.42 397.48,64.41 398.71,64.41 399.94,64.40 401.18,64.38 402.42,64.37 403.65,64.36 404.88,64.34 406.12,64.32 407.36,64.30 408.59,64.28 409.82,64.26 411.06,64.23 412.30,64.21 413.53,64.18 414.76,64.15 416.00,64.12 417.24,64.09 418.47,64.06 419.71,64.03 420.94,64.00 422.18,63.96 423.41,63.93 424.64,63.90 425.88,63.86 427.12,63.83 428.35,63.79 429.59,63.76 430.82,63.73 432.06,63.69 433.29,63.66 434.53,63.63 435.76,63.60 437.00,63.56 438.23,63.53 439.47,63.51 440.70,63.48 441.94,63.45 443.17,63.42 444.41,63.40 445.64,63.38 446.88,63.36 448.11,63.34 449.35,63.32 450.58,63.30 451.81,63.29 453.05,63.27 454.29,63.26 455.52,63.25 456.75,63.25 457.99,63.24 459.23,63.24 460.46,63.24 461.69,63.24 462.93,63.24 464.17,63.24 465.40,63.25 466.63,63.26 467.87,63.27 469.11,63.28 470.34,63.29 471.57,63.31 472.81,63.32 474.05,63.34 475.28,63.36 476.51,63.39 477.75,63.41 478.99,63.43 480.22,63.46 481.46,63.49 482.69,63.52 483.93,63.55 485.16,63.58 486.39,63.61 487.63,63.64 488.87,63.67 490.10,63.70 491.34,63.74 492.57,63.77 493.81,63.81 495.04,63.84 496.27,63.87 497.51,63.91 498.75,63.94 499.98,63.98 501.22,64.01 502.45,64.04 503.69,64.07 504.92,64.10 506.16,64.13 507.39,64.16 508.62,64.19 509.86,64.22 511.10,64.24 512.33,64.27 513.57,64.29 514.80,64.31 516.03,64.33 517.27,64.35 518.50,64.36 519.74,64.38 520.98,64.39 522.21,64.40 523.45,64.41 524.68,64.42 525.91,64.42 527.15,64.42 528.38,64.42 529.62,64.42 530.86,64.42 532.09,64.42 533.33,64.41 534.56,64.40 535.79,64.39 537.03,64.38 538.26,64.36 539.50,64.35" fill="none" stroke="#5aa8ec" stroke-width="1.25"/>
<circle cx="402.56" cy="63.55" r="1.35" fill="white" stroke="#3f93e4" stroke-width="0.9"/>
<circle cx="402.56" cy="70.09" r="1.55" fill="#f21d1d"/>
<path d="M400.16 28.90H404.96M402.56 26.50V31.30" stroke="#262626" stroke-width="1.0"/>
<circle cx="413.83" cy="63.55" r="1.35" fill="white" stroke="#3f93e4" stroke-width="0.9"/>
<circle cx="413.83" cy="68.20" r="1.55" fill="#f21d1d"/>
<path d="M411.43 36.25H416.23M413.83 33.85V38.65" stroke="#262626" stroke-width="1.0"/>
<circle cx="425.09" cy="63.55" r="1.35" fill="white" stroke="#3f93e4" stroke-width="0.9"/>
<circle cx="425.09" cy="80.35" r="1.55" fill="#f21d1d"/>
<path d="M422.69 60.05H427.49M425.09 57.65V62.45" stroke="#262626" stroke-width="1.0"/>
<circle cx="436.35" cy="63.55" r="1.35" fill="#3f93e4" stroke="#3f93e4" stroke-width="0.6"/>
<circle cx="436.35" cy="78.25" r="1.55" fill="#f21d1d"/>
<path d="M433.95 80.35H438.75M436.35 77.95V82.75" stroke="#262626" stroke-width="1.0"/>
<circle cx="447.62" cy="63.55" r="1.35" fill="#3f93e4" stroke="#3f93e4" stroke-width="0.6"/>
<circle cx="447.62" cy="80.21" r="1.55" fill="#f21d1d"/>
<path d="M445.22 75.10H450.02M447.62 72.70V77.50" stroke="#262626" stroke-width="1.0"/>
<circle cx="458.88" cy="64.81" r="1.35" fill="white" stroke="#3f93e4" stroke-width="0.9"/>
<circle cx="458.88" cy="91.20" r="1.55" fill="#f21d1d"/>
<path d="M456.48 70.41H461.28M458.88 68.01V72.81" stroke="#262626" stroke-width="1.0"/>
<circle cx="470.14" cy="61.80" r="1.35" fill="white" stroke="#3f93e4" stroke-width="0.9"/>
<circle cx="470.14" cy="70.90" r="1.55" fill="#f21d1d"/>
<path d="M467.74 65.30H472.54M470.14 62.90V67.70" stroke="#262626" stroke-width="1.0"/>
<circle cx="481.41" cy="63.55" r="1.35" fill="#3f93e4" stroke="#3f93e4" stroke-width="0.6"/>
<circle cx="481.41" cy="61.10" r="1.55" fill="#f21d1d"/>
<path d="M479.01 56.20H483.81M481.41 53.80V58.60" stroke="#262626" stroke-width="1.0"/>
<circle cx="492.67" cy="62.50" r="1.35" fill="white" stroke="#3f93e4" stroke-width="0.9"/>
<circle cx="492.67" cy="47.10" r="1.55" fill="#f21d1d"/>
<path d="M490.27 47.80H495.07M492.67 45.40V50.20" stroke="#262626" stroke-width="1.0"/>
<circle cx="503.93" cy="63.55" r="1.35" fill="#3f93e4" stroke="#3f93e4" stroke-width="0.6"/>
<circle cx="503.93" cy="49.55" r="1.55" fill="#f21d1d"/>
<path d="M501.53 49.55H506.33M503.93 47.15V51.95" stroke="#262626" stroke-width="1.0"/>
<circle cx="515.20" cy="65.30" r="1.35" fill="white" stroke="#3f93e4" stroke-width="0.9"/>
<circle cx="515.20" cy="50.25" r="1.55" fill="#f21d1d"/>
<path d="M512.80 46.05H517.60M515.20 43.65V48.45" stroke="#262626" stroke-width="1.0"/>
<circle cx="526.46" cy="65.65" r="1.35" fill="white" stroke="#3f93e4" stroke-width="0.9"/>
<circle cx="526.46" cy="46.05" r="1.55" fill="#f21d1d"/>
<path d="M524.06 25.40H528.86M526.46 23.00V27.80" stroke="#262626" stroke-width="1.0"/>
</g>
<rect x="26.50" y="176.40" width="148.20" height="74.10" fill="none" stroke="#747474" stroke-width="1.45"/>
<text x="22.10" y="178.80" font-size="7.2" stroke="#1a1a1a" stroke-width="0.12" text-anchor="end">5</text>
<path d="M26.50 186.99h2.6" stroke="#747474" stroke-width="0.9"/>
<text x="22.10" y="189.39" font-size="7.2" stroke="#1a1a1a" stroke-width="0.12" text-anchor="end">2</text>
<path d="M26.50 197.57h2.6" stroke="#747474" stroke-width="0.9"/>
<text x="22.10" y="199.97" font-size="7.2" stroke="#1a1a1a" stroke-width="0.12" text-anchor="end">-1</text>
<path d="M26.50 208.16h2.6" stroke="#747474" stroke-width="0.9"/>
<text x="22.10" y="210.56" font-size="7.2" stroke="#1a1a1a" stroke-width="0.12" text-anchor="end">-4</text>
<path d="M26.50 218.74h2.6" stroke="#747474" stroke-width="0.9"/>
<text x="22.10" y="221.14" font-size="7.2" stroke="#1a1a1a" stroke-width="0.12" text-anchor="end">-7</text>
<path d="M26.50 229.33h2.6" stroke="#747474" stroke-width="0.9"/>
<text x="22.10" y="231.73" font-size="7.2" stroke="#1a1a1a" stroke-width="0.12" text-anchor="end">-10</text>
<path d="M26.50 239.91h2.6" stroke="#747474" stroke-width="0.9"/>
<text x="22.10" y="242.31" font-size="7.2" stroke="#1a1a1a" stroke-width="0.12" text-anchor="end">-13</text>
<text x="22.10" y="252.90" font-size="7.2" stroke="#1a1a1a" stroke-width="0.12" text-anchor="end">-16</text>
<text x="26.50" y="262.50" font-size="7.2" stroke="#1a1a1a" stroke-width="0.12" text-anchor="middle">0</text>
<text x="45.02" y="262.50" font-size="7.2" stroke="#1a1a1a" stroke-width="0.12" text-anchor="middle">50</text>
<text x="63.55" y="262.50" font-size="7.2" stroke="#1a1a1a" stroke-width="0.12" text-anchor="middle">100</text>
<text x="82.08" y="262.50" font-size="7.2" stroke="#1a1a1a" stroke-width="0.12" text-anchor="middle">150</text>
<text x="100.60" y="262.50" font-size="7.2" stroke="#1a1a1a" stroke-width="0.12" text-anchor="middle">200</text>
<text x="119.12" y="262.50" font-size="7.2" stroke="#1a1a1a" stroke-width="0.12" text-anchor="middle">250</text>
<text x="137.65" y="262.50" font-size="7.2" stroke="#1a1a1a" stroke-width="0.12" text-anchor="middle">300</text>
<text x="156.17" y="262.50" font-size="7.2" stroke="#1a1a1a" stroke-width="0.12" text-anchor="middle">350</text>
<text x="174.70" y="262.50" font-size="7.2" stroke="#1a1a1a" stroke-width="0.12" text-anchor="middle">400</text>
<text x="5.70" y="262.80" font-size="9.6">day</text>
<text transform="translate(12.90 210.55) rotate(-90)" font-size="9.0" text-anchor="middle">&#948;<tspan font-size="5.4" dy="-3.0">18</tspan><tspan dy="3.0">O (&#8240;)</tspan></text>
<clipPath id="cd"><rect x="26.50" y="176.40" width="148.20" height="74.10"/></clipPath>
<g clip-path="url(#cd)">
<polyline points="26.50,206.65 27.73,207.34 28.97,208.08 30.20,208.86 31.44,209.68 32.67,210.54 33.91,211.43 35.14,212.36 36.38,213.32 37.62,214.30 38.85,215.31 40.08,216.33 41.32,217.38 42.55,218.43 43.79,219.50 45.02,220.57 46.26,221.65 47.49,222.72 48.73,223.79 49.97,224.85 51.20,225.90 52.44,226.94 53.67,227.95 54.91,228.95 56.14,229.92 57.38,230.86 58.61,231.77 59.84,232.65 61.08,233.49 62.31,234.28 63.55,235.04 64.78,235.75 66.02,236.42 67.25,237.03 68.49,237.59 69.72,238.10 70.96,238.56 72.19,238.95 73.43,239.29 74.66,239.57 75.90,239.79 77.13,239.95 78.37,240.05 79.60,240.09 80.84,240.07 82.08,239.98 83.31,239.83 84.54,239.62 85.78,239.36 87.02,239.03 88.25,238.64 89.48,238.20 90.72,237.70 91.95,237.15 93.19,236.55 94.42,235.89 95.66,235.19 96.89,234.44 98.13,233.65 99.36,232.82 100.60,231.95 101.83,231.05 103.07,230.11 104.30,229.15 105.54,228.16 106.77,227.15 108.01,226.11 109.25,225.07 110.48,224.01 111.72,222.94 112.95,221.87 114.18,220.79 115.42,219.72 116.66,218.65 117.89,217.59 119.12,216.55 120.36,215.52 121.59,214.50 122.83,213.51 124.06,212.55 125.30,211.62 126.53,210.72 127.77,209.85 129.00,209.02 130.24,208.23 131.47,207.49 132.71,206.79 133.94,206.13 135.18,205.53 136.42,204.98 137.65,204.49 138.88,204.05 140.12,203.66 141.36,203.34 142.59,203.07 143.82,202.87 145.06,202.72 146.29,202.64 147.53,202.62 148.76,202.66 150.00,202.76 151.24,202.92 152.47,203.15 153.70,203.43 154.94,203.77 156.17,204.17 157.41,204.63 158.65,205.14 159.88,205.70 161.11,206.32 162.35,206.99 163.58,207.70 164.82,208.46 166.06,209.26 167.29,210.10 168.52,210.98 169.76,211.89 170.99,212.83 172.23,213.80 173.47,214.80 174.70,215.82" fill="none" stroke="#f21d1d" stroke-width="1.25"/>
<polyline points="26.50,194.17 27.73,194.37 28.97,194.62 30.20,194.91 31.44,195.24 32.67,195.62 33.91,196.04 35.14,196.50 36.38,196.99 37.62,197.53 38.85,198.10 40.08,198.70 41.32,199.33 42.55,199.99 43.79,200.68 45.02,201.39 46.26,202.13 47.49,202.88 48.73,203.66 49.97,204.44 51.20,205.24 52.44,206.05 53.67,206.87 54.91,207.69 56.14,208.51 57.38,209.33 58.61,210.15 59.84,210.96 61.08,211.76 62.31,212.55 63.55,213.32 64.78,214.08 66.02,214.82 67.25,215.54 68.49,216.23 69.72,216.89 70.96,217.53 72.19,218.14 73.43,218.71 74.66,219.25 75.90,219.75 77.13,220.21 78.37,220.64 79.60,221.02 80.84,221.36 82.08,221.66 83.31,221.91 84.54,222.12 85.78,222.28 87.02,222.39 88.25,222.46 89.48,222.48 90.72,222.46 91.95,222.38 93.19,222.26 94.42,222.10 95.66,221.88 96.89,221.63 98.13,221.33 99.36,220.98 100.60,220.59 101.83,220.16 103.07,219.70 104.30,219.19 105.54,218.65 106.77,218.07 108.01,217.46 109.25,216.82 110.48,216.15 111.72,215.46 112.95,214.74 114.18,214.00 115.42,213.24 116.66,212.46 117.89,211.67 119.12,210.87 120.36,210.06 121.59,209.24 122.83,208.42 124.06,207.60 125.30,206.78 126.53,205.96 127.77,205.15 129.00,204.36 130.24,203.57 131.47,202.80 132.71,202.05 133.94,201.31 135.18,200.60 136.42,199.92 137.65,199.26 138.88,198.63 140.12,198.03 141.36,197.47 142.59,196.94 143.82,196.45 145.06,195.99 146.29,195.58 147.53,195.21 148.76,194.88 150.00,194.59 151.24,194.35 152.47,194.15 153.70,194.00 154.94,193.90 156.17,193.84 157.41,193.83 158.65,193.87 159.88,193.96 161.11,194.09 162.35,194.27 163.58,194.49 164.82,194.76 166.06,195.07 167.29,195.43 168.52,195.83 169.76,196.26 170.99,196.74 172.23,197.26 173.47,197.81 174.70,198.39" fill="none" stroke="#404040" stroke-width="1.25"/>
<polyline points="26.50,216.58 27.73,216.50 28.97,216.43 30.20,216.35 31.44,216.27 32.67,216.19 33.91,216.11 35.14,216.03 36.38,215.94 37.62,215.86 38.85,215.77 40.08,215.69 41.32,215.60 42.55,215.52 43.79,215.44 45.02,215.35 46.26,215.27 47.49,215.19 48.73,215.12 49.97,215.04 51.20,214.97 52.44,214.90 53.67,214.83 54.91,214.77 56.14,214.71 57.38,214.65 58.61,214.60 59.84,214.55 61.08,214.50 62.31,214.46 63.55,214.42 64.78,214.39 66.02,214.36 67.25,214.34 68.49,214.32 69.72,214.31 70.96,214.30 72.19,214.30 73.43,214.30 74.66,214.30 75.90,214.31 77.13,214.33 78.37,214.35 79.60,214.38 80.84,214.41 82.08,214.44 83.31,214.48 84.54,214.52 85.78,214.57 87.02,214.62 88.25,214.67 89.48,214.73 90.72,214.79 91.95,214.86 93.19,214.93 94.42,215.00 95.66,215.07 96.89,215.15 98.13,215.23 99.36,215.31 100.60,215.39 101.83,215.47 103.07,215.55 104.30,215.64 105.54,215.72 106.77,215.81 108.01,215.89 109.25,215.98 110.48,216.06 111.72,216.14 112.95,216.23 114.18,216.31 115.42,216.38 116.66,216.46 117.89,216.53 119.12,216.61 120.36,216.68 121.59,216.74 122.83,216.81 124.06,216.86 125.30,216.92 126.53,216.97 127.77,217.02 129.00,217.07 130.24,217.11 131.47,217.14 132.71,217.17 133.94,217.20 135.18,217.22 136.42,217.24 137.65,217.25 138.88,217.26 140.12,217.26 141.36,217.26 142.59,217.25 143.82,217.24 145.06,217.22 146.29,217.20 147.53,217.18 148.76,217.14 150.00,217.11 151.24,217.07 152.47,217.03 153.70,216.98 154.94,216.93 156.17,216.87 157.41,216.81 158.65,216.75 159.88,216.68 161.11,216.61 162.35,216.54 163.58,216.47 164.82,216.39 166.06,216.31 167.29,216.23 168.52,216.15 169.76,216.07 170.99,215.98 172.23,215.90 173.47,215.81 174.70,215.73" fill="none" stroke="#5aa8ec" stroke-width="1.25"/>
<circle cx="37.76" cy="215.85" r="1.35" fill="white" stroke="#3f93e4" stroke-width="0.9"/>
<circle cx="37.76" cy="218.04" r="1.35" fill="white" stroke="#3f93e4" stroke-width="0.9"/>
<circle cx="37.76" cy="225.27" r="1.55" fill="#f21d1d"/>
<path d="M35.36 185.96H40.16M37.76 183.56V188.36" stroke="#262626" stroke-width="1.0"/>
<path d="M35.36 187.66H40.16M37.76 185.26V190.06" stroke="#262626" stroke-width="1.0"/>
<path d="M35.36 192.46H40.16M37.76 190.06V194.86" stroke="#262626" stroke-width="1.0"/>
<circle cx="49.03" cy="214.16" r="1.35" fill="white" stroke="#3f93e4" stroke-width="0.9"/>
<circle cx="49.03" cy="215.85" r="1.35" fill="white" stroke="#3f93e4" stroke-width="0.9"/>
<circle cx="49.03" cy="224.39" r="1.55" fill="#f21d1d"/>
<path d="M46.63 193.13H51.43M49.03 190.73V195.53" stroke="#262626" stroke-width="1.0"/>
<path d="M46.63 194.85H51.43M49.03 192.45V197.25" stroke="#262626" stroke-width="1.0"/>
<path d="M46.63 201.66H51.43M49.03 199.26V204.06" stroke="#262626" stroke-width="1.0"/>
<circle cx="60.29" cy="215.21" r="1.35" fill="#3f93e4" stroke="#3f93e4" stroke-width="0.6"/>
<circle cx="60.29" cy="216.63" r="1.35" fill="#3f93e4" stroke="#3f93e4" stroke-width="0.6"/>
<circle cx="60.29" cy="236.88" r="1.55" fill="#f21d1d"/>
<path d="M57.89 215.36H62.69M60.29 212.96V217.76" stroke="#262626" stroke-width="1.0"/>
<path d="M57.89 217.58H62.69M60.29 215.18V219.98" stroke="#262626" stroke-width="1.0"/>
<circle cx="71.55" cy="204.42" r="1.35" fill="white" stroke="#3f93e4" stroke-width="0.9"/>
<circle cx="71.55" cy="214.16" r="1.35" fill="white" stroke="#3f93e4" stroke-width="0.9"/>
<circle cx="71.55" cy="235.50" r="1.55" fill="#f21d1d"/>
<path d="M69.15 231.80H73.95M71.55 229.40V234.20" stroke="#262626" stroke-width="1.0"/>
<path d="M69.15 233.56H73.95M71.55 231.16V235.96" stroke="#262626" stroke-width="1.0"/>
<circle cx="82.82" cy="215.92" r="1.35" fill="#3f93e4" stroke="#3f93e4" stroke-width="0.6"/>
<circle cx="82.82" cy="235.19" r="1.55" fill="#f21d1d"/>
<path d="M80.42 215.00H85.22M82.82 212.60V217.40" stroke="#262626" stroke-width="1.0"/>
<path d="M80.42 217.58H85.22M82.82 215.18V219.98" stroke="#262626" stroke-width="1.0"/>
<path d="M80.42 223.54H85.22M82.82 221.14V225.94" stroke="#262626" stroke-width="1.0"/>
<circle cx="94.08" cy="214.51" r="1.35" fill="#3f93e4" stroke="#3f93e4" stroke-width="0.6"/>
<circle cx="94.08" cy="216.27" r="1.35" fill="#3f93e4" stroke="#3f93e4" stroke-width="0.6"/>
<circle cx="94.08" cy="247.15" r="1.55" fill="#f21d1d"/>
<path d="M91.68 212.96H96.48M94.08 210.56V215.36" stroke="#262626" stroke-width="1.0"/>
<path d="M91.68 215.85H96.48M94.08 213.45V218.25" stroke="#262626" stroke-width="1.0"/>
<circle cx="105.34" cy="215.00" r="1.35" fill="#3f93e4" stroke="#3f93e4" stroke-width="0.6"/>
<circle cx="105.34" cy="229.54" r="1.55" fill="#f21d1d"/>
<path d="M102.94 209.04H107.74M105.34 206.64V211.44" stroke="#262626" stroke-width="1.0"/>
<path d="M102.94 215.00H107.74M105.34 212.60V217.40" stroke="#262626" stroke-width="1.0"/>
<circle cx="116.61" cy="216.73" r="1.35" fill="white" stroke="#3f93e4" stroke-width="0.9"/>
<circle cx="116.61" cy="215.21" r="1.55" fill="#f21d1d"/>
<path d="M114.21 212.96H119.01M116.61 210.56V215.36" stroke="#262626" stroke-width="1.0"/>
<circle cx="127.87" cy="216.73" r="1.35" fill="#3f93e4" stroke="#3f93e4" stroke-width="0.6"/>
<circle cx="127.87" cy="206.82" r="1.55" fill="#f21d1d"/>
<path d="M125.47 204.42H130.27M127.87 202.02V206.82" stroke="#262626" stroke-width="1.0"/>
<path d="M125.47 210.73H130.27M127.87 208.33V213.13" stroke="#262626" stroke-width="1.0"/>
<circle cx="139.13" cy="216.73" r="1.35" fill="white" stroke="#3f93e4" stroke-width="0.9"/>
<circle cx="139.13" cy="204.77" r="1.55" fill="#f21d1d"/>
<path d="M136.73 193.65H141.53M139.13 191.25V196.05" stroke="#262626" stroke-width="1.0"/>
<path d="M136.73 209.53H141.53M139.13 207.13V211.93" stroke="#262626" stroke-width="1.0"/>
<circle cx="150.40" cy="216.27" r="1.35" fill="white" stroke="#3f93e4" stroke-width="0.9"/>
<circle cx="150.40" cy="203.04" r="1.55" fill="#f21d1d"/>
<path d="M148.00 200.99H152.80M150.40 198.59V203.39" stroke="#262626" stroke-width="1.0"/>
<path d="M148.00 202.16H152.80M150.40 199.76V204.56" stroke="#262626" stroke-width="1.0"/>
<circle cx="161.66" cy="216.73" r="1.35" fill="white" stroke="#3f93e4" stroke-width="0.9"/>
<circle cx="161.66" cy="200.99" r="1.55" fill="#f21d1d"/>
<path d="M159.26 180.49H164.06M161.66 178.09V182.89" stroke="#262626" stroke-width="1.0"/>
<path d="M159.26 198.77H164.06M161.66 196.37V201.17" stroke="#262626" stroke-width="1.0"/>
</g>
<rect x="210.70" y="176.40" width="148.70" height="73.80" fill="none" stroke="#747474" stroke-width="1.45"/>
<text x="206.30" y="178.80" font-size="7.2" stroke="#1a1a1a" stroke-width="0.12" text-anchor="end">5</text>
<path d="M210.70 186.94h2.6" stroke="#747474" stroke-width="0.9"/>
<text x="206.30" y="189.34" font-size="7.2" stroke="#1a1a1a" stroke-width="0.12" text-anchor="end">2</text>
<path d="M210.70 197.49h2.6" stroke="#747474" stroke-width="0.9"/>
<text x="206.30" y="199.89" font-size="7.2" stroke="#1a1a1a" stroke-width="0.12" text-anchor="end">-1</text>
<path d="M210.70 208.03h2.6" stroke="#747474" stroke-width="0.9"/>
<text x="206.30" y="210.43" font-size="7.2" stroke="#1a1a1a" stroke-width="0.12" text-anchor="end">-4</text>
<path d="M210.70 218.57h2.6" stroke="#747474" stroke-width="0.9"/>
<text x="206.30" y="220.97" font-size="7.2" stroke="#1a1a1a" stroke-width="0.12" text-anchor="end">-7</text>
<path d="M210.70 229.11h2.6" stroke="#747474" stroke-width="0.9"/>
<text x="206.30" y="231.51" font-size="7.2" stroke="#1a1a1a" stroke-width="0.12" text-anchor="end">-10</text>
<path d="M210.70 239.66h2.6" stroke="#747474" stroke-width="0.9"/>
<text x="206.30" y="242.06" font-size="7.2" stroke="#1a1a1a" stroke-width="0.12" text-anchor="end">-13</text>
<text x="206.30" y="252.60" font-size="7.2" stroke="#1a1a1a" stroke-width="0.12" text-anchor="end">-16</text>
<text x="210.70" y="262.20" font-size="7.2" stroke="#1a1a1a" stroke-width="0.12" text-anchor="middle">0</text>
<text x="229.29" y="262.20" font-size="7.2" stroke="#1a1a1a" stroke-width="0.12" text-anchor="middle">50</text>
<text x="247.88" y="262.20" font-size="7.2" stroke="#1a1a1a" stroke-width="0.12" text-anchor="middle">100</text>
<text x="266.46" y="262.20" font-size="7.2" stroke="#1a1a1a" stroke-width="0.12" text-anchor="middle">150</text>
<text x="285.05" y="262.20" font-size="7.2" stroke="#1a1a1a" stroke-width="0.12" text-anchor="middle">200</text>
<text x="303.64" y="262.20" font-size="7.2" stroke="#1a1a1a" stroke-width="0.12" text-anchor="middle">250</text>
<text x="322.23" y="262.20" font-size="7.2" stroke="#1a1a1a" stroke-width="0.12" text-anchor="middle">300</text>
<text x="340.81" y="262.20" font-size="7.2" stroke="#1a1a1a" stroke-width="0.12" text-anchor="middle">350</text>
<text x="359.40" y="262.20" font-size="7.2" stroke="#1a1a1a" stroke-width="0.12" text-anchor="middle">400</text>
<text x="189.90" y="262.50" font-size="9.6">day</text>
<text transform="translate(197.10 210.40) rotate(-90)" font-size="9.0" text-anchor="middle">&#948;<tspan font-size="5.4" dy="-3.0">18</tspan><tspan dy="3.0">O (&#8240;)</tspan></text>
<clipPath id="ce"><rect x="210.70" y="176.40" width="148.70" height="73.80"/></clipPath>
<g clip-path="url(#ce)">
<polyline points="210.70,206.74 211.94,207.47 213.18,208.25 214.42,209.06 215.66,209.92 216.90,210.82 218.13,211.75 219.37,212.71 220.61,213.70 221.85,214.72 223.09,215.76 224.33,216.82 225.57,217.89 226.81,218.97 228.05,220.06 229.29,221.16 230.53,222.26 231.77,223.35 233.00,224.44 234.24,225.51 235.48,226.58 236.72,227.62 237.96,228.65 239.20,229.65 240.44,230.63 241.68,231.57 242.92,232.48 244.16,233.36 245.40,234.19 246.64,234.99 247.88,235.73 249.11,236.43 250.35,237.09 251.59,237.68 252.83,238.23 254.07,238.72 255.31,239.15 256.55,239.53 257.79,239.84 259.03,240.10 260.27,240.29 261.51,240.42 262.75,240.49 263.98,240.49 265.22,240.44 266.46,240.32 267.70,240.13 268.94,239.89 270.18,239.58 271.42,239.22 272.66,238.79 273.90,238.31 275.14,237.77 276.38,237.18 277.62,236.54 278.85,235.85 280.09,235.11 281.33,234.32 282.57,233.49 283.81,232.62 285.05,231.72 286.29,230.78 287.53,229.81 288.77,228.81 290.01,227.79 291.25,226.74 292.49,225.68 293.72,224.61 294.96,223.52 296.20,222.43 297.44,221.33 298.68,220.24 299.92,219.14 301.16,218.06 302.40,216.98 303.64,215.92 304.88,214.88 306.12,213.86 307.36,212.87 308.59,211.90 309.83,210.96 311.07,210.06 312.31,209.20 313.55,208.37 314.79,207.59 316.03,206.85 317.27,206.16 318.51,205.53 319.75,204.94 320.99,204.41 322.23,203.93 323.46,203.51 324.70,203.15 325.94,202.85 327.18,202.61 328.42,202.44 329.66,202.32 330.90,202.27 332.14,202.28 333.38,202.35 334.62,202.49 335.86,202.69 337.09,202.95 338.33,203.27 339.57,203.65 340.81,204.09 342.05,204.58 343.29,205.13 344.53,205.74 345.77,206.39 347.01,207.10 348.25,207.85 349.49,208.65 350.73,209.49 351.96,210.36 353.20,211.28 354.44,212.23 355.68,213.20 356.92,214.21 358.16,215.24 359.40,216.28" fill="none" stroke="#f21d1d" stroke-width="1.25"/>
<polyline points="210.70,205.05 211.94,204.98 213.18,204.94 214.42,204.94 215.66,204.97 216.90,205.03 218.13,205.13 219.37,205.26 220.61,205.42 221.85,205.61 223.09,205.84 224.33,206.10 225.57,206.38 226.81,206.70 228.05,207.04 229.29,207.41 230.53,207.81 231.77,208.23 233.00,208.67 234.24,209.13 235.48,209.62 236.72,210.12 237.96,210.64 239.20,211.17 240.44,211.72 241.68,212.27 242.92,212.84 244.16,213.42 245.40,214.00 246.64,214.58 247.88,215.17 249.11,215.76 250.35,216.34 251.59,216.92 252.83,217.50 254.07,218.06 255.31,218.62 256.55,219.17 257.79,219.70 259.03,220.22 260.27,220.72 261.51,221.20 262.75,221.67 263.98,222.11 265.22,222.53 266.46,222.92 267.70,223.29 268.94,223.63 270.18,223.95 271.42,224.23 272.66,224.49 273.90,224.71 275.14,224.91 276.38,225.07 277.62,225.20 278.85,225.30 280.09,225.36 281.33,225.39 282.57,225.38 283.81,225.34 285.05,225.27 286.29,225.17 287.53,225.03 288.77,224.86 290.01,224.66 291.25,224.42 292.49,224.16 293.72,223.87 294.96,223.54 296.20,223.19 297.44,222.82 298.68,222.42 299.92,221.99 301.16,221.54 302.40,221.07 303.64,220.59 304.88,220.08 306.12,219.56 307.36,219.02 308.59,218.47 309.83,217.91 311.07,217.34 312.31,216.76 313.55,216.18 314.79,215.60 316.03,215.01 317.27,214.42 318.51,213.84 319.75,213.26 320.99,212.69 322.23,212.12 323.46,211.57 324.70,211.02 325.94,210.50 327.18,209.98 328.42,209.48 329.66,209.01 330.90,208.55 332.14,208.11 333.38,207.70 334.62,207.31 335.86,206.95 337.09,206.61 338.33,206.30 339.57,206.02 340.81,205.78 342.05,205.56 343.29,205.37 344.53,205.22 345.77,205.10 347.01,205.01 348.25,204.96 349.49,204.94 350.73,204.95 351.96,205.00 353.20,205.08 354.44,205.19 355.68,205.34 356.92,205.51 358.16,205.72 359.40,205.96" fill="none" stroke="#404040" stroke-width="1.25"/>
<polyline points="210.70,220.24 211.94,220.16 213.18,220.09 214.42,220.02 215.66,219.95 216.90,219.89 218.13,219.83 219.37,219.77 220.61,219.72 221.85,219.67 223.09,219.63 224.33,219.59 225.57,219.56 226.81,219.53 228.05,219.50 229.29,219.48 230.53,219.47 231.77,219.46 233.00,219.45 234.24,219.45 235.48,219.46 236.72,219.47 237.96,219.48 239.20,219.50 240.44,219.53 241.68,219.56 242.92,219.59 244.16,219.63 245.40,219.68 246.64,219.72 247.88,219.78 249.11,219.83 250.35,219.89 251.59,219.96 252.83,220.02 254.07,220.09 255.31,220.17 256.55,220.24 257.79,220.32 259.03,220.40 260.27,220.49 261.51,220.57 262.75,220.66 263.98,220.74 265.22,220.83 266.46,220.92 267.70,221.01 268.94,221.10 270.18,221.19 271.42,221.27 272.66,221.36 273.90,221.45 275.14,221.53 276.38,221.61 277.62,221.69 278.85,221.77 280.09,221.85 281.33,221.92 282.57,221.99 283.81,222.06 285.05,222.12 286.29,222.18 287.53,222.23 288.77,222.28 290.01,222.33 291.25,222.37 292.49,222.41 293.72,222.45 294.96,222.47 296.20,222.50 297.44,222.52 298.68,222.53 299.92,222.54 301.16,222.54 302.40,222.54 303.64,222.53 304.88,222.52 306.12,222.51 307.36,222.48 308.59,222.46 309.83,222.43 311.07,222.39 312.31,222.35 313.55,222.31 314.79,222.26 316.03,222.20 317.27,222.15 318.51,222.08 319.75,222.02 320.99,221.95 322.23,221.88 323.46,221.81 324.70,221.73 325.94,221.65 327.18,221.57 328.42,221.48 329.66,221.40 330.90,221.31 332.14,221.23 333.38,221.14 334.62,221.05 335.86,220.96 337.09,220.87 338.33,220.78 339.57,220.70 340.81,220.61 342.05,220.52 343.29,220.44 344.53,220.36 345.77,220.28 347.01,220.20 348.25,220.13 349.49,220.06 350.73,219.99 351.96,219.92 353.20,219.86 354.44,219.80 355.68,219.75 356.92,219.70 358.16,219.65 359.40,219.61" fill="none" stroke="#5aa8ec" stroke-width="1.25"/>
<circle cx="222.00" cy="215.06" r="1.35" fill="#3f93e4" stroke="#3f93e4" stroke-width="0.6"/>
<circle cx="222.00" cy="217.52" r="1.35" fill="#3f93e4" stroke="#3f93e4" stroke-width="0.6"/>
<circle cx="222.00" cy="219.98" r="1.35" fill="#3f93e4" stroke="#3f93e4" stroke-width="0.6"/>
<circle cx="222.00" cy="222.44" r="1.35" fill="#3f93e4" stroke="#3f93e4" stroke-width="0.6"/>
<circle cx="222.00" cy="225.25" r="1.35" fill="#3f93e4" stroke="#3f93e4" stroke-width="0.6"/>
<circle cx="222.00" cy="223.56" r="1.55" fill="#f21d1d"/>
<circle cx="222.00" cy="225.25" r="1.55" fill="#f21d1d"/>
<path d="M219.60 179.98H224.40M222.00 177.58V182.38" stroke="#262626" stroke-width="1.0"/>
<path d="M219.60 181.71H224.40M222.00 179.31V184.11" stroke="#262626" stroke-width="1.0"/>
<path d="M219.60 183.43H224.40M222.00 181.03V185.83" stroke="#262626" stroke-width="1.0"/>
<path d="M219.60 193.66H224.40M222.00 191.26V196.06" stroke="#262626" stroke-width="1.0"/>
<path d="M219.60 204.69H224.40M222.00 202.29V207.09" stroke="#262626" stroke-width="1.0"/>
<path d="M219.60 209.61H224.40M222.00 207.21V212.01" stroke="#262626" stroke-width="1.0"/>
<path d="M219.60 212.25H224.40M222.00 209.85V214.65" stroke="#262626" stroke-width="1.0"/>
<circle cx="233.30" cy="214.00" r="1.35" fill="#3f93e4" stroke="#3f93e4" stroke-width="0.6"/>
<circle cx="233.30" cy="216.46" r="1.35" fill="#3f93e4" stroke="#3f93e4" stroke-width="0.6"/>
<circle cx="233.30" cy="218.92" r="1.35" fill="#3f93e4" stroke="#3f93e4" stroke-width="0.6"/>
<circle cx="233.30" cy="221.38" r="1.35" fill="#3f93e4" stroke="#3f93e4" stroke-width="0.6"/>
<circle cx="233.30" cy="223.84" r="1.35" fill="#3f93e4" stroke="#3f93e4" stroke-width="0.6"/>
<circle cx="233.30" cy="225.25" r="1.35" fill="#3f93e4" stroke="#3f93e4" stroke-width="0.6"/>
<circle cx="233.30" cy="222.72" r="1.55" fill="#f21d1d"/>
<circle cx="233.30" cy="223.84" r="1.55" fill="#f21d1d"/>
<path d="M230.90 187.33H235.70M233.30 184.93V189.73" stroke="#262626" stroke-width="1.0"/>
<path d="M230.90 199.70H235.70M233.30 197.30V202.10" stroke="#262626" stroke-width="1.0"/>
<path d="M230.90 208.03H235.70M233.30 205.63V210.43" stroke="#262626" stroke-width="1.0"/>
<path d="M230.90 210.14H235.70M233.30 207.74V212.54" stroke="#262626" stroke-width="1.0"/>
<circle cx="244.60" cy="209.05" r="1.35" fill="#3f93e4" stroke="#3f93e4" stroke-width="0.6"/>
<circle cx="244.60" cy="211.54" r="1.35" fill="#3f93e4" stroke="#3f93e4" stroke-width="0.6"/>
<circle cx="244.60" cy="214.00" r="1.35" fill="#3f93e4" stroke="#3f93e4" stroke-width="0.6"/>
<circle cx="244.60" cy="216.46" r="1.35" fill="#3f93e4" stroke="#3f93e4" stroke-width="0.6"/>
<circle cx="244.60" cy="218.92" r="1.35" fill="#3f93e4" stroke="#3f93e4" stroke-width="0.6"/>
<circle cx="244.60" cy="225.25" r="1.35" fill="white" stroke="#3f93e4" stroke-width="0.9"/>
<circle cx="244.60" cy="234.74" r="1.55" fill="#f21d1d"/>
<circle cx="244.60" cy="236.85" r="1.55" fill="#f21d1d"/>
<path d="M242.20 212.46H247.00M244.60 210.06V214.86" stroke="#262626" stroke-width="1.0"/>
<path d="M242.20 214.18H247.00M244.60 211.78V216.58" stroke="#262626" stroke-width="1.0"/>
<path d="M242.20 215.06H247.00M244.60 212.66V217.46" stroke="#262626" stroke-width="1.0"/>
<circle cx="255.90" cy="215.87" r="1.35" fill="#3f93e4" stroke="#3f93e4" stroke-width="0.6"/>
<circle cx="255.90" cy="217.87" r="1.35" fill="#3f93e4" stroke="#3f93e4" stroke-width="0.6"/>
<circle cx="255.90" cy="219.98" r="1.35" fill="#3f93e4" stroke="#3f93e4" stroke-width="0.6"/>
<circle cx="255.90" cy="221.73" r="1.35" fill="#3f93e4" stroke="#3f93e4" stroke-width="0.6"/>
<circle cx="255.90" cy="230.87" r="1.55" fill="#f21d1d"/>
<path d="M253.50 219.27H258.30M255.90 216.87V221.67" stroke="#262626" stroke-width="1.0"/>
<path d="M253.50 221.52H258.30M255.90 219.12V223.92" stroke="#262626" stroke-width="1.0"/>
<path d="M253.50 224.19H258.30M255.90 221.79V226.59" stroke="#262626" stroke-width="1.0"/>
<path d="M253.50 228.69H258.30M255.90 226.29V231.09" stroke="#262626" stroke-width="1.0"/>
<path d="M253.50 230.52H258.30M255.90 228.12V232.92" stroke="#262626" stroke-width="1.0"/>
<path d="M253.50 232.28H258.30M255.90 229.88V234.68" stroke="#262626" stroke-width="1.0"/>
<path d="M253.50 234.03H258.30M255.90 231.63V236.43" stroke="#262626" stroke-width="1.0"/>
<path d="M253.50 235.44H258.30M255.90 233.04V237.84" stroke="#262626" stroke-width="1.0"/>
<circle cx="267.21" cy="216.81" r="1.35" fill="#3f93e4" stroke="#3f93e4" stroke-width="0.6"/>
<circle cx="267.21" cy="218.92" r="1.35" fill="#3f93e4" stroke="#3f93e4" stroke-width="0.6"/>
<circle cx="267.21" cy="221.03" r="1.35" fill="#3f93e4" stroke="#3f93e4" stroke-width="0.6"/>
<circle cx="267.21" cy="223.14" r="1.35" fill="#3f93e4" stroke="#3f93e4" stroke-width="0.6"/>
<circle cx="267.21" cy="233.82" r="1.55" fill="#f21d1d"/>
<circle cx="267.21" cy="236.39" r="1.55" fill="#f21d1d"/>
<path d="M264.81 219.27H269.61M267.21 216.87V221.67" stroke="#262626" stroke-width="1.0"/>
<path d="M264.81 225.25H269.61M267.21 222.85V227.65" stroke="#262626" stroke-width="1.0"/>
<path d="M264.81 228.69H269.61M267.21 226.29V231.09" stroke="#262626" stroke-width="1.0"/>
<circle cx="278.51" cy="216.74" r="1.35" fill="#3f93e4" stroke="#3f93e4" stroke-width="0.6"/>
<circle cx="278.51" cy="219.27" r="1.35" fill="#3f93e4" stroke="#3f93e4" stroke-width="0.6"/>
<circle cx="278.51" cy="221.73" r="1.35" fill="#3f93e4" stroke="#3f93e4" stroke-width="0.6"/>
<circle cx="278.51" cy="227.01" r="1.35" fill="white" stroke="#3f93e4" stroke-width="0.9"/>
<circle cx="278.51" cy="245.63" r="1.55" fill="#f21d1d"/>
<circle cx="278.51" cy="246.69" r="1.55" fill="#f21d1d"/>
<path d="M276.11 215.06H280.91M278.51 212.66V217.46" stroke="#262626" stroke-width="1.0"/>
<path d="M276.11 216.39H280.91M278.51 213.99V218.79" stroke="#262626" stroke-width="1.0"/>
<path d="M276.11 221.87H280.91M278.51 219.47V224.27" stroke="#262626" stroke-width="1.0"/>
<circle cx="289.81" cy="219.98" r="1.35" fill="#3f93e4" stroke="#3f93e4" stroke-width="0.6"/>
<circle cx="289.81" cy="222.09" r="1.35" fill="#3f93e4" stroke="#3f93e4" stroke-width="0.6"/>
<circle cx="289.81" cy="224.19" r="1.35" fill="#3f93e4" stroke="#3f93e4" stroke-width="0.6"/>
<circle cx="289.81" cy="229.47" r="1.55" fill="#f21d1d"/>
<path d="M287.41 218.78H292.21M289.81 216.38V221.18" stroke="#262626" stroke-width="1.0"/>
<path d="M287.41 219.98H292.21M289.81 217.58V222.38" stroke="#262626" stroke-width="1.0"/>
<circle cx="301.11" cy="219.27" r="1.35" fill="#3f93e4" stroke="#3f93e4" stroke-width="0.6"/>
<circle cx="301.11" cy="221.73" r="1.35" fill="#3f93e4" stroke="#3f93e4" stroke-width="0.6"/>
<circle cx="301.11" cy="224.19" r="1.35" fill="#3f93e4" stroke="#3f93e4" stroke-width="0.6"/>
<circle cx="301.11" cy="215.37" r="1.55" fill="#f21d1d"/>
<path d="M298.71 215.06H303.51M301.11 212.66V217.46" stroke="#262626" stroke-width="1.0"/>
<path d="M298.71 216.81H303.51M301.11 214.41V219.21" stroke="#262626" stroke-width="1.0"/>
<path d="M298.71 221.87H303.51M301.11 219.47V224.27" stroke="#262626" stroke-width="1.0"/>
<circle cx="312.41" cy="216.81" r="1.35" fill="#3f93e4" stroke="#3f93e4" stroke-width="0.6"/>
<circle cx="312.41" cy="219.27" r="1.35" fill="#3f93e4" stroke="#3f93e4" stroke-width="0.6"/>
<circle cx="312.41" cy="221.73" r="1.35" fill="#3f93e4" stroke="#3f93e4" stroke-width="0.6"/>
<circle cx="312.41" cy="224.19" r="1.35" fill="#3f93e4" stroke="#3f93e4" stroke-width="0.6"/>
<circle cx="312.41" cy="201.00" r="1.55" fill="#f21d1d"/>
<circle cx="312.41" cy="206.83" r="1.55" fill="#f21d1d"/>
<path d="M310.01 209.89H314.81M312.41 207.49V212.29" stroke="#262626" stroke-width="1.0"/>
<path d="M310.01 212.46H314.81M312.41 210.06V214.86" stroke="#262626" stroke-width="1.0"/>
<path d="M310.01 219.80H314.81M312.41 217.40V222.20" stroke="#262626" stroke-width="1.0"/>
<circle cx="323.71" cy="218.57" r="1.35" fill="#3f93e4" stroke="#3f93e4" stroke-width="0.6"/>
<circle cx="323.71" cy="221.03" r="1.35" fill="#3f93e4" stroke="#3f93e4" stroke-width="0.6"/>
<circle cx="323.71" cy="223.49" r="1.35" fill="#3f93e4" stroke="#3f93e4" stroke-width="0.6"/>
<circle cx="323.71" cy="227.36" r="1.35" fill="white" stroke="#3f93e4" stroke-width="0.9"/>
<circle cx="323.71" cy="203.92" r="1.55" fill="#f21d1d"/>
<path d="M321.31 196.57H326.11M323.71 194.17V198.97" stroke="#262626" stroke-width="1.0"/>
<path d="M321.31 210.24H326.11M323.71 207.84V212.64" stroke="#262626" stroke-width="1.0"/>
<path d="M321.31 221.00H326.11M323.71 218.60V223.40" stroke="#262626" stroke-width="1.0"/>
<circle cx="335.01" cy="218.57" r="1.35" fill="#3f93e4" stroke="#3f93e4" stroke-width="0.6"/>
<circle cx="335.01" cy="220.68" r="1.35" fill="#3f93e4" stroke="#3f93e4" stroke-width="0.6"/>
<circle cx="335.01" cy="227.36" r="1.35" fill="white" stroke="#3f93e4" stroke-width="0.9"/>
<circle cx="335.01" cy="205.11" r="1.55" fill="#f21d1d"/>
<path d="M332.61 189.72H337.41M335.01 187.32V192.12" stroke="#262626" stroke-width="1.0"/>
<path d="M332.61 199.31H337.41M335.01 196.91V201.71" stroke="#262626" stroke-width="1.0"/>
<path d="M332.61 201.35H337.41M335.01 198.95V203.75" stroke="#262626" stroke-width="1.0"/>
<path d="M332.61 210.73H337.41M335.01 208.33V213.13" stroke="#262626" stroke-width="1.0"/>
<path d="M332.61 212.46H337.41M335.01 210.06V214.86" stroke="#262626" stroke-width="1.0"/>
<path d="M332.61 216.74H337.41M335.01 214.34V219.14" stroke="#262626" stroke-width="1.0"/>
<circle cx="346.31" cy="218.92" r="1.35" fill="#3f93e4" stroke="#3f93e4" stroke-width="0.6"/>
<circle cx="346.31" cy="221.03" r="1.35" fill="#3f93e4" stroke="#3f93e4" stroke-width="0.6"/>
<circle cx="346.31" cy="225.25" r="1.35" fill="white" stroke="#3f93e4" stroke-width="0.9"/>
<circle cx="346.31" cy="199.63" r="1.55" fill="#f21d1d"/>
<circle cx="346.31" cy="201.00" r="1.55" fill="#f21d1d"/>
<path d="M343.91 193.13H348.71M346.31 190.73V195.53" stroke="#262626" stroke-width="1.0"/>
<path d="M343.91 194.85H348.71M346.31 192.45V197.25" stroke="#262626" stroke-width="1.0"/>
<path d="M343.91 205.11H348.71M346.31 202.71V207.51" stroke="#262626" stroke-width="1.0"/>
<path d="M343.91 215.06H348.71M346.31 212.66V217.46" stroke="#262626" stroke-width="1.0"/>
<path d="M343.91 216.81H348.71M346.31 214.41V219.21" stroke="#262626" stroke-width="1.0"/>
</g>
<rect x="395.30" y="177.00" width="148.20" height="74.10" fill="none" stroke="#747474" stroke-width="1.45"/>
<text x="390.90" y="179.40" font-size="7.2" stroke="#1a1a1a" stroke-width="0.12" text-anchor="end">5</text>
<path d="M395.30 187.59h2.6" stroke="#747474" stroke-width="0.9"/>
<text x="390.90" y="189.99" font-size="7.2" stroke="#1a1a1a" stroke-width="0.12" text-anchor="end">2</text>
<path d="M395.30 198.17h2.6" stroke="#747474" stroke-width="0.9"/>
<text x="390.90" y="200.57" font-size="7.2" stroke="#1a1a1a" stroke-width="0.12" text-anchor="end">-1</text>
<path d="M395.30 208.76h2.6" stroke="#747474" stroke-width="0.9"/>
<text x="390.90" y="211.16" font-size="7.2" stroke="#1a1a1a" stroke-width="0.12" text-anchor="end">-4</text>
<path d="M395.30 219.34h2.6" stroke="#747474" stroke-width="0.9"/>
<text x="390.90" y="221.74" font-size="7.2" stroke="#1a1a1a" stroke-width="0.12" text-anchor="end">-7</text>
<path d="M395.30 229.93h2.6" stroke="#747474" stroke-width="0.9"/>
<text x="390.90" y="232.33" font-size="7.2" stroke="#1a1a1a" stroke-width="0.12" text-anchor="end">-10</text>
<path d="M395.30 240.51h2.6" stroke="#747474" stroke-width="0.9"/>
<text x="390.90" y="242.91" font-size="7.2" stroke="#1a1a1a" stroke-width="0.12" text-anchor="end">-13</text>
<text x="390.90" y="253.50" font-size="7.2" stroke="#1a1a1a" stroke-width="0.12" text-anchor="end">-16</text>
<text x="395.30" y="263.10" font-size="7.2" stroke="#1a1a1a" stroke-width="0.12" text-anchor="middle">0</text>
<text x="413.82" y="263.10" font-size="7.2" stroke="#1a1a1a" stroke-width="0.12" text-anchor="middle">50</text>
<text x="432.35" y="263.10" font-size="7.2" stroke="#1a1a1a" stroke-width="0.12" text-anchor="middle">100</text>
<text x="450.88" y="263.10" font-size="7.2" stroke="#1a1a1a" stroke-width="0.12" text-anchor="middle">150</text>
<text x="469.40" y="263.10" font-size="7.2" stroke="#1a1a1a" stroke-width="0.12" text-anchor="middle">200</text>
<text x="487.93" y="263.10" font-size="7.2" stroke="#1a1a1a" stroke-width="0.12" text-anchor="middle">250</text>
<text x="506.45" y="263.10" font-size="7.2" stroke="#1a1a1a" stroke-width="0.12" text-anchor="middle">300</text>
<text x="524.98" y="263.10" font-size="7.2" stroke="#1a1a1a" stroke-width="0.12" text-anchor="middle">350</text>
<text x="543.50" y="263.10" font-size="7.2" stroke="#1a1a1a" stroke-width="0.12" text-anchor="middle">400</text>
<text x="374.50" y="263.40" font-size="9.6">day</text>
<text transform="translate(381.70 211.15) rotate(-90)" font-size="9.0" text-anchor="middle">&#948;<tspan font-size="5.4" dy="-3.0">18</tspan><tspan dy="3.0">O (&#8240;)</tspan></text>
<clipPath id="cf"><rect x="395.30" y="177.00" width="148.20" height="74.10"/></clipPath>
<g clip-path="url(#cf)">
<polyline points="395.30,208.20 396.54,208.95 397.77,209.75 399.00,210.60 400.24,211.48 401.48,212.41 402.71,213.37 403.94,214.37 405.18,215.39 406.42,216.44 407.65,217.52 408.88,218.61 410.12,219.72 411.36,220.84 412.59,221.97 413.82,223.10 415.06,224.23 416.30,225.36 417.53,226.49 418.76,227.60 420.00,228.70 421.24,229.78 422.47,230.84 423.71,231.88 424.94,232.89 426.18,233.86 427.41,234.80 428.64,235.71 429.88,236.57 431.12,237.39 432.35,238.16 433.59,238.89 434.82,239.56 436.06,240.18 437.29,240.74 438.53,241.25 439.76,241.70 441.00,242.09 442.23,242.41 443.47,242.67 444.70,242.87 445.94,243.01 447.17,243.08 448.41,243.08 449.64,243.02 450.88,242.90 452.11,242.71 453.35,242.46 454.58,242.14 455.81,241.76 457.05,241.33 458.29,240.83 459.52,240.27 460.75,239.66 461.99,239.00 463.23,238.28 464.46,237.51 465.69,236.70 466.93,235.85 468.17,234.95 469.40,234.01 470.63,233.04 471.87,232.04 473.11,231.01 474.34,229.95 475.57,228.87 476.81,227.78 478.05,226.66 479.28,225.54 480.51,224.41 481.75,223.28 482.99,222.15 484.22,221.02 485.46,219.89 486.69,218.78 487.93,217.69 489.16,216.61 490.39,215.56 491.63,214.53 492.87,213.53 494.10,212.56 495.34,211.63 496.57,210.73 497.81,209.88 499.04,209.07 500.27,208.31 501.51,207.60 502.75,206.94 503.98,206.33 505.22,205.78 506.45,205.29 507.69,204.86 508.92,204.49 510.16,204.18 511.39,203.93 512.62,203.75 513.86,203.63 515.10,203.57 516.33,203.58 517.57,203.66 518.80,203.80 520.03,204.01 521.27,204.28 522.50,204.61 523.74,205.00 524.98,205.45 526.21,205.97 527.45,206.53 528.68,207.16 529.91,207.84 531.15,208.57 532.38,209.34 533.62,210.17 534.86,211.03 536.09,211.94 537.33,212.89 538.56,213.87 539.79,214.88 541.03,215.91 542.26,216.98 543.50,218.06" fill="none" stroke="#f21d1d" stroke-width="1.25"/>
<polyline points="395.30,203.20 396.54,203.01 397.77,202.88 399.00,202.79 400.24,202.76 401.48,202.77 402.71,202.84 403.94,202.95 405.18,203.11 406.42,203.32 407.65,203.58 408.88,203.89 410.12,204.24 411.36,204.63 412.59,205.07 413.82,205.56 415.06,206.08 416.30,206.64 417.53,207.23 418.76,207.87 420.00,208.53 421.24,209.23 422.47,209.95 423.71,210.70 424.94,211.47 426.18,212.27 427.41,213.08 428.64,213.91 429.88,214.75 431.12,215.60 432.35,216.46 433.59,217.32 434.82,218.18 436.06,219.05 437.29,219.91 438.53,220.76 439.76,221.60 441.00,222.43 442.23,223.25 443.47,224.04 444.70,224.82 445.94,225.57 447.17,226.30 448.41,227.00 449.64,227.67 450.88,228.31 452.11,228.91 453.35,229.48 454.58,230.01 455.81,230.50 457.05,230.94 458.29,231.35 459.52,231.71 460.75,232.02 461.99,232.29 463.23,232.51 464.46,232.68 465.69,232.80 466.93,232.87 468.17,232.89 469.40,232.87 470.63,232.79 471.87,232.66 473.11,232.49 474.34,232.27 475.57,232.00 476.81,231.68 478.05,231.32 479.28,230.91 480.51,230.46 481.75,229.97 482.99,229.44 484.22,228.87 485.46,228.26 486.69,227.62 487.93,226.95 489.16,226.25 490.39,225.52 491.63,224.76 492.87,223.98 494.10,223.18 495.34,222.37 496.57,221.54 497.81,220.69 499.04,219.84 500.27,218.98 501.51,218.12 502.75,217.25 503.98,216.39 505.22,215.53 506.45,214.68 507.69,213.84 508.92,213.01 510.16,212.20 511.39,211.41 512.62,210.64 513.86,209.89 515.10,209.17 516.33,208.48 517.57,207.82 518.80,207.19 520.03,206.59 521.27,206.03 522.50,205.52 523.74,205.04 524.98,204.60 526.21,204.21 527.45,203.86 528.68,203.56 529.91,203.31 531.15,203.10 532.38,202.94 533.62,202.83 534.86,202.77 536.09,202.76 537.33,202.80 538.56,202.89 539.79,203.03 541.03,203.21 542.26,203.45 543.50,203.73" fill="none" stroke="#404040" stroke-width="1.25"/>
<polyline points="395.30,227.12 396.54,227.08 397.77,227.06 399.00,227.03 400.24,227.00 401.48,226.98 402.71,226.96 403.94,226.94 405.18,226.92 406.42,226.90 407.65,226.89 408.88,226.88 410.12,226.87 411.36,226.86 412.59,226.86 413.82,226.86 415.06,226.86 416.30,226.86 417.53,226.87 418.76,226.88 420.00,226.89 421.24,226.90 422.47,226.92 423.71,226.94 424.94,226.96 426.18,226.98 427.41,227.00 428.64,227.03 429.88,227.06 431.12,227.09 432.35,227.12 433.59,227.15 434.82,227.18 436.06,227.22 437.29,227.26 438.53,227.30 439.76,227.34 441.00,227.38 442.23,227.42 443.47,227.46 444.70,227.50 445.94,227.54 447.17,227.58 448.41,227.63 449.64,227.67 450.88,227.71 452.11,227.75 453.35,227.79 454.58,227.84 455.81,227.88 457.05,227.91 458.29,227.95 459.52,227.99 460.75,228.02 461.99,228.06 463.23,228.09 464.46,228.12 465.69,228.15 466.93,228.18 468.17,228.20 469.40,228.23 470.63,228.25 471.87,228.27 473.11,228.29 474.34,228.30 475.57,228.31 476.81,228.32 478.05,228.33 479.28,228.34 480.51,228.34 481.75,228.34 482.99,228.34 484.22,228.33 485.46,228.33 486.69,228.32 487.93,228.31 489.16,228.29 490.39,228.28 491.63,228.26 492.87,228.24 494.10,228.22 495.34,228.19 496.57,228.16 497.81,228.14 499.04,228.11 500.27,228.07 501.51,228.04 502.75,228.01 503.98,227.97 505.22,227.93 506.45,227.89 507.69,227.85 508.92,227.81 510.16,227.77 511.39,227.73 512.62,227.69 513.86,227.65 515.10,227.60 516.33,227.56 517.57,227.52 518.80,227.48 520.03,227.44 521.27,227.39 522.50,227.35 523.74,227.31 524.98,227.28 526.21,227.24 527.45,227.20 528.68,227.17 529.91,227.13 531.15,227.10 532.38,227.07 533.62,227.04 534.86,227.01 536.09,226.99 537.33,226.97 538.56,226.94 539.79,226.93 541.03,226.91 542.26,226.90 543.50,226.88" fill="none" stroke="#5aa8ec" stroke-width="1.25"/>
<circle cx="406.56" cy="226.26" r="1.35" fill="#3f93e4" stroke="#3f93e4" stroke-width="0.6"/>
<circle cx="406.56" cy="221.46" r="1.55" fill="#f21d1d"/>
<path d="M404.16 193.80H408.96M406.56 191.40V196.20" stroke="#262626" stroke-width="1.0"/>
<circle cx="417.83" cy="226.26" r="1.35" fill="#3f93e4" stroke="#3f93e4" stroke-width="0.6"/>
<circle cx="417.83" cy="223.19" r="1.55" fill="#f21d1d"/>
<path d="M415.43 211.23H420.23M417.83 208.83V213.63" stroke="#262626" stroke-width="1.0"/>
<circle cx="429.09" cy="226.40" r="1.35" fill="#3f93e4" stroke="#3f93e4" stroke-width="0.6"/>
<circle cx="429.09" cy="235.57" r="1.55" fill="#f21d1d"/>
<path d="M426.69 216.87H431.49M429.09 214.47V219.27" stroke="#262626" stroke-width="1.0"/>
<circle cx="440.35" cy="226.40" r="1.35" fill="#3f93e4" stroke="#3f93e4" stroke-width="0.6"/>
<circle cx="440.35" cy="232.75" r="1.55" fill="#f21d1d"/>
<path d="M437.95 232.75H442.75M440.35 230.35V235.15" stroke="#262626" stroke-width="1.0"/>
<circle cx="451.62" cy="227.46" r="1.35" fill="#3f93e4" stroke="#3f93e4" stroke-width="0.6"/>
<circle cx="451.62" cy="237.87" r="1.55" fill="#f21d1d"/>
<path d="M449.22 227.11H454.02M451.62 224.71V229.51" stroke="#262626" stroke-width="1.0"/>
<circle cx="462.88" cy="227.11" r="1.35" fill="white" stroke="#3f93e4" stroke-width="0.9"/>
<circle cx="462.88" cy="246.51" r="1.55" fill="#f21d1d"/>
<path d="M460.48 224.21H465.28M462.88 221.81V226.61" stroke="#262626" stroke-width="1.0"/>
<circle cx="474.14" cy="227.11" r="1.35" fill="#3f93e4" stroke="#3f93e4" stroke-width="0.6"/>
<circle cx="474.14" cy="224.88" r="1.55" fill="#f21d1d"/>
<path d="M471.74 226.26H476.54M474.14 223.86V228.66" stroke="#262626" stroke-width="1.0"/>
<circle cx="485.41" cy="227.11" r="1.35" fill="#3f93e4" stroke="#3f93e4" stroke-width="0.6"/>
<circle cx="485.41" cy="215.67" r="1.55" fill="#f21d1d"/>
<path d="M483.01 226.61H487.81M485.41 224.21V229.01" stroke="#262626" stroke-width="1.0"/>
<circle cx="496.67" cy="227.46" r="1.35" fill="#3f93e4" stroke="#3f93e4" stroke-width="0.6"/>
<circle cx="496.67" cy="210.03" r="1.55" fill="#f21d1d"/>
<path d="M494.27 227.11H499.07M496.67 224.71V229.51" stroke="#262626" stroke-width="1.0"/>
<circle cx="507.93" cy="227.46" r="1.35" fill="#3f93e4" stroke="#3f93e4" stroke-width="0.6"/>
<circle cx="507.93" cy="204.38" r="1.55" fill="#f21d1d"/>
<path d="M505.53 224.57H510.33M507.93 222.17V226.97" stroke="#262626" stroke-width="1.0"/>
<circle cx="519.20" cy="228.16" r="1.35" fill="white" stroke="#3f93e4" stroke-width="0.9"/>
<circle cx="519.20" cy="203.71" r="1.55" fill="#f21d1d"/>
<path d="M516.80 204.38H521.60M519.20 201.98V206.78" stroke="#262626" stroke-width="1.0"/>
<circle cx="530.46" cy="226.05" r="1.35" fill="white" stroke="#3f93e4" stroke-width="0.9"/>
<circle cx="530.46" cy="200.29" r="1.55" fill="#f21d1d"/>
<path d="M528.06 195.84H532.86M530.46 193.44V198.24" stroke="#262626" stroke-width="1.0"/>
</g>
<rect x="26.50" y="332.30" width="148.00" height="74.10" fill="none" stroke="#747474" stroke-width="1.45"/>
<text x="22.10" y="334.70" font-size="7.2" stroke="#1a1a1a" stroke-width="0.12" text-anchor="end">5</text>
<path d="M26.50 342.89h2.6" stroke="#747474" stroke-width="0.9"/>
<text x="22.10" y="345.29" font-size="7.2" stroke="#1a1a1a" stroke-width="0.12" text-anchor="end">2</text>
<path d="M26.50 353.47h2.6" stroke="#747474" stroke-width="0.9"/>
<text x="22.10" y="355.87" font-size="7.2" stroke="#1a1a1a" stroke-width="0.12" text-anchor="end">-1</text>
<path d="M26.50 364.06h2.6" stroke="#747474" stroke-width="0.9"/>
<text x="22.10" y="366.46" font-size="7.2" stroke="#1a1a1a" stroke-width="0.12" text-anchor="end">-4</text>
<path d="M26.50 374.64h2.6" stroke="#747474" stroke-width="0.9"/>
<text x="22.10" y="377.04" font-size="7.2" stroke="#1a1a1a" stroke-width="0.12" text-anchor="end">-7</text>
<path d="M26.50 385.23h2.6" stroke="#747474" stroke-width="0.9"/>
<text x="22.10" y="387.63" font-size="7.2" stroke="#1a1a1a" stroke-width="0.12" text-anchor="end">-10</text>
<path d="M26.50 395.81h2.6" stroke="#747474" stroke-width="0.9"/>
<text x="22.10" y="398.21" font-size="7.2" stroke="#1a1a1a" stroke-width="0.12" text-anchor="end">-13</text>
<text x="22.10" y="408.80" font-size="7.2" stroke="#1a1a1a" stroke-width="0.12" text-anchor="end">-16</text>
<text x="26.50" y="418.40" font-size="7.2" stroke="#1a1a1a" stroke-width="0.12" text-anchor="middle">0</text>
<text x="45.00" y="418.40" font-size="7.2" stroke="#1a1a1a" stroke-width="0.12" text-anchor="middle">50</text>
<text x="63.50" y="418.40" font-size="7.2" stroke="#1a1a1a" stroke-width="0.12" text-anchor="middle">100</text>
<text x="82.00" y="418.40" font-size="7.2" stroke="#1a1a1a" stroke-width="0.12" text-anchor="middle">150</text>
<text x="100.50" y="418.40" font-size="7.2" stroke="#1a1a1a" stroke-width="0.12" text-anchor="middle">200</text>
<text x="119.00" y="418.40" font-size="7.2" stroke="#1a1a1a" stroke-width="0.12" text-anchor="middle">250</text>
<text x="137.50" y="418.40" font-size="7.2" stroke="#1a1a1a" stroke-width="0.12" text-anchor="middle">300</text>
<text x="156.00" y="418.40" font-size="7.2" stroke="#1a1a1a" stroke-width="0.12" text-anchor="middle">350</text>
<text x="174.50" y="418.40" font-size="7.2" stroke="#1a1a1a" stroke-width="0.12" text-anchor="middle">400</text>
<text x="5.70" y="418.70" font-size="9.6">day</text>
<text transform="translate(12.90 366.45) rotate(-90)" font-size="9.0" text-anchor="middle">&#948;<tspan font-size="5.4" dy="-3.0">18</tspan><tspan dy="3.0">O (&#8240;)</tspan></text>
<clipPath id="cg"><rect x="26.50" y="332.30" width="148.00" height="74.10"/></clipPath>
<g clip-path="url(#cg)">
<polyline points="26.50,362.37 27.73,363.13 28.97,363.94 30.20,364.78 31.43,365.67 32.67,366.59 33.90,367.54 35.13,368.53 36.37,369.54 37.60,370.57 38.83,371.62 40.07,372.69 41.30,373.77 42.53,374.86 43.77,375.96 45.00,377.05 46.23,378.15 47.47,379.24 48.70,380.32 49.93,381.39 51.17,382.44 52.40,383.48 53.63,384.49 54.87,385.47 56.10,386.42 57.33,387.35 58.57,388.23 59.80,389.08 61.03,389.88 62.27,390.65 63.50,391.36 64.73,392.03 65.97,392.64 67.20,393.21 68.43,393.72 69.67,394.17 70.90,394.56 72.13,394.89 73.37,395.17 74.60,395.38 75.83,395.53 77.07,395.61 78.30,395.64 79.53,395.60 80.77,395.50 82.00,395.33 83.23,395.11 84.47,394.82 85.70,394.47 86.93,394.06 88.17,393.60 89.40,393.08 90.63,392.50 91.87,391.88 93.10,391.20 94.33,390.47 95.57,389.70 96.80,388.88 98.03,388.03 99.27,387.13 100.50,386.20 101.73,385.24 102.97,384.25 104.20,383.23 105.43,382.20 106.67,381.14 107.90,380.07 109.13,378.98 110.37,377.89 111.60,376.80 112.83,375.70 114.07,374.60 115.30,373.52 116.53,372.44 117.77,371.37 119.00,370.32 120.23,369.30 121.47,368.29 122.70,367.32 123.93,366.37 125.17,365.46 126.40,364.58 127.63,363.74 128.87,362.95 130.10,362.20 131.33,361.49 132.57,360.84 133.80,360.24 135.03,359.69 136.27,359.19 137.50,358.76 138.73,358.38 139.97,358.06 141.20,357.80 142.43,357.61 143.67,357.47 144.90,357.40 146.13,357.39 147.37,357.45 148.60,357.56 149.83,357.74 151.07,357.99 152.30,358.29 153.53,358.65 154.77,359.07 156.00,359.55 157.23,360.08 158.47,360.67 159.70,361.31 160.93,362.00 162.17,362.74 163.40,363.53 164.63,364.35 165.87,365.22 167.10,366.12 168.33,367.06 169.57,368.03 170.80,369.03 172.03,370.05 173.27,371.09 174.50,372.15" fill="none" stroke="#f21d1d" stroke-width="1.25"/>
<polyline points="26.50,357.74 27.73,357.78 28.97,357.85 30.20,357.95 31.43,358.10 32.67,358.28 33.90,358.50 35.13,358.76 36.37,359.05 37.60,359.37 38.83,359.73 40.07,360.12 41.30,360.54 42.53,360.98 43.77,361.46 45.00,361.96 46.23,362.49 47.47,363.03 48.70,363.60 49.93,364.19 51.17,364.80 52.40,365.41 53.63,366.05 54.87,366.69 56.10,367.34 57.33,368.00 58.57,368.67 59.80,369.33 61.03,370.00 62.27,370.66 63.50,371.32 64.73,371.97 65.97,372.62 67.20,373.25 68.43,373.87 69.67,374.48 70.90,375.07 72.13,375.64 73.37,376.19 74.60,376.71 75.83,377.22 77.07,377.69 78.30,378.14 79.53,378.56 80.77,378.95 82.00,379.31 83.23,379.64 84.47,379.93 85.70,380.18 86.93,380.41 88.17,380.59 89.40,380.74 90.63,380.85 91.87,380.92 93.10,380.96 94.33,380.95 95.57,380.91 96.80,380.83 98.03,380.71 99.27,380.56 100.50,380.37 101.73,380.14 102.97,379.87 104.20,379.57 105.43,379.24 106.67,378.88 107.90,378.48 109.13,378.06 110.37,377.60 111.60,377.12 112.83,376.61 114.07,376.08 115.30,375.53 116.53,374.95 117.77,374.36 119.00,373.75 120.23,373.13 121.47,372.49 122.70,371.85 123.93,371.19 125.17,370.53 126.40,369.87 127.63,369.20 128.87,368.54 130.10,367.87 131.33,367.22 132.57,366.56 133.80,365.92 135.03,365.29 136.27,364.68 137.50,364.07 138.73,363.49 139.97,362.92 141.20,362.38 142.43,361.86 143.67,361.36 144.90,360.89 146.13,360.45 147.37,360.04 148.60,359.66 149.83,359.31 151.07,358.99 152.30,358.71 153.53,358.46 154.77,358.24 156.00,358.07 157.23,357.93 158.47,357.83 159.70,357.77 160.93,357.74 162.17,357.75 163.40,357.81 164.63,357.90 165.87,358.02 167.10,358.19 168.33,358.39 169.57,358.63 170.80,358.90 172.03,359.21 173.27,359.55 174.50,359.92" fill="none" stroke="#404040" stroke-width="1.25"/>
<polyline points="26.50,375.56 27.73,375.53 28.97,375.50 30.20,375.47 31.43,375.44 32.67,375.42 33.90,375.41 35.13,375.40 36.37,375.39 37.60,375.38 38.83,375.38 40.07,375.39 41.30,375.40 42.53,375.41 43.77,375.43 45.00,375.45 46.23,375.47 47.47,375.50 48.70,375.54 49.93,375.57 51.17,375.61 52.40,375.65 53.63,375.70 54.87,375.75 56.10,375.80 57.33,375.86 58.57,375.92 59.80,375.98 61.03,376.04 62.27,376.11 63.50,376.17 64.73,376.24 65.97,376.31 67.20,376.38 68.43,376.45 69.67,376.52 70.90,376.60 72.13,376.67 73.37,376.74 74.60,376.82 75.83,376.89 77.07,376.96 78.30,377.03 79.53,377.10 80.77,377.17 82.00,377.23 83.23,377.29 84.47,377.36 85.70,377.42 86.93,377.47 88.17,377.53 89.40,377.58 90.63,377.63 91.87,377.67 93.10,377.71 94.33,377.75 95.57,377.79 96.80,377.82 98.03,377.85 99.27,377.87 100.50,377.89 101.73,377.90 102.97,377.91 104.20,377.92 105.43,377.92 106.67,377.92 107.90,377.92 109.13,377.91 110.37,377.89 111.60,377.88 112.83,377.85 114.07,377.83 115.30,377.80 116.53,377.76 117.77,377.73 119.00,377.69 120.23,377.64 121.47,377.60 122.70,377.54 123.93,377.49 125.17,377.43 126.40,377.38 127.63,377.32 128.87,377.25 130.10,377.19 131.33,377.12 132.57,377.05 133.80,376.98 135.03,376.91 136.27,376.84 137.50,376.77 138.73,376.69 139.97,376.62 141.20,376.55 142.43,376.48 143.67,376.40 144.90,376.33 146.13,376.26 147.37,376.19 148.60,376.13 149.83,376.06 151.07,376.00 152.30,375.94 153.53,375.88 154.77,375.82 156.00,375.77 157.23,375.72 158.47,375.67 159.70,375.62 160.93,375.58 162.17,375.55 163.40,375.51 164.63,375.48 165.87,375.46 167.10,375.43 168.33,375.42 169.57,375.40 170.80,375.39 172.03,375.39 173.27,375.38 174.50,375.39" fill="none" stroke="#5aa8ec" stroke-width="1.25"/>
<circle cx="37.75" cy="371.36" r="1.35" fill="white" stroke="#3f93e4" stroke-width="0.9"/>
<circle cx="37.75" cy="376.12" r="1.35" fill="white" stroke="#3f93e4" stroke-width="0.9"/>
<circle cx="37.75" cy="380.08" r="1.55" fill="#f21d1d"/>
<path d="M35.35 335.97H40.15M37.75 333.57V338.37" stroke="#262626" stroke-width="1.0"/>
<path d="M35.35 360.42H40.15M37.75 358.02V362.82" stroke="#262626" stroke-width="1.0"/>
<path d="M35.35 362.65H40.15M37.75 360.25V365.05" stroke="#262626" stroke-width="1.0"/>
<path d="M35.35 366.21H40.15M37.75 363.81V368.61" stroke="#262626" stroke-width="1.0"/>
<circle cx="49.00" cy="373.06" r="1.35" fill="#3f93e4" stroke="#3f93e4" stroke-width="0.6"/>
<circle cx="49.00" cy="375.00" r="1.35" fill="#3f93e4" stroke="#3f93e4" stroke-width="0.6"/>
<circle cx="49.00" cy="378.35" r="1.55" fill="#f21d1d"/>
<path d="M46.60 343.34H51.40M49.00 340.94V345.74" stroke="#262626" stroke-width="1.0"/>
<path d="M46.60 355.62H51.40M49.00 353.22V358.02" stroke="#262626" stroke-width="1.0"/>
<path d="M46.60 363.85H51.40M49.00 361.45V366.25" stroke="#262626" stroke-width="1.0"/>
<circle cx="60.24" cy="374.43" r="1.35" fill="#3f93e4" stroke="#3f93e4" stroke-width="0.6"/>
<circle cx="60.24" cy="376.05" r="1.35" fill="#3f93e4" stroke="#3f93e4" stroke-width="0.6"/>
<circle cx="60.24" cy="390.13" r="1.55" fill="#f21d1d"/>
<path d="M57.84 368.43H62.64M60.24 366.03V370.83" stroke="#262626" stroke-width="1.0"/>
<path d="M57.84 370.41H62.64M60.24 368.01V372.81" stroke="#262626" stroke-width="1.0"/>
<circle cx="71.49" cy="376.05" r="1.35" fill="#3f93e4" stroke="#3f93e4" stroke-width="0.6"/>
<circle cx="71.49" cy="377.82" r="1.35" fill="#3f93e4" stroke="#3f93e4" stroke-width="0.6"/>
<circle cx="71.49" cy="379.23" r="1.35" fill="#3f93e4" stroke="#3f93e4" stroke-width="0.6"/>
<circle cx="71.49" cy="388.40" r="1.55" fill="#f21d1d"/>
<path d="M69.09 376.97H73.89M71.49 374.57V379.37" stroke="#262626" stroke-width="1.0"/>
<path d="M69.09 381.28H73.89M71.49 378.88V383.68" stroke="#262626" stroke-width="1.0"/>
<path d="M69.09 386.04H73.89M71.49 383.64V388.44" stroke="#262626" stroke-width="1.0"/>
<path d="M69.09 388.93H73.89M71.49 386.53V391.33" stroke="#262626" stroke-width="1.0"/>
<path d="M69.09 390.17H73.89M71.49 387.77V392.57" stroke="#262626" stroke-width="1.0"/>
<circle cx="82.74" cy="376.05" r="1.35" fill="#3f93e4" stroke="#3f93e4" stroke-width="0.6"/>
<circle cx="82.74" cy="377.82" r="1.35" fill="#3f93e4" stroke="#3f93e4" stroke-width="0.6"/>
<circle cx="82.74" cy="390.13" r="1.55" fill="#f21d1d"/>
<path d="M80.34 384.35H85.14M82.74 381.95V386.75" stroke="#262626" stroke-width="1.0"/>
<circle cx="93.99" cy="376.05" r="1.35" fill="#3f93e4" stroke="#3f93e4" stroke-width="0.6"/>
<circle cx="93.99" cy="378.17" r="1.35" fill="#3f93e4" stroke="#3f93e4" stroke-width="0.6"/>
<circle cx="93.99" cy="400.90" r="1.55" fill="#f21d1d"/>
<path d="M91.59 373.06H96.39M93.99 370.66V375.45" stroke="#262626" stroke-width="1.0"/>
<path d="M91.59 377.82H96.39M93.99 375.42V380.22" stroke="#262626" stroke-width="1.0"/>
<circle cx="105.24" cy="376.41" r="1.35" fill="#3f93e4" stroke="#3f93e4" stroke-width="0.6"/>
<circle cx="105.24" cy="378.17" r="1.35" fill="#3f93e4" stroke="#3f93e4" stroke-width="0.6"/>
<circle cx="105.24" cy="380.92" r="1.55" fill="#f21d1d"/>
<path d="M102.84 375.81H107.64M105.24 373.41V378.21" stroke="#262626" stroke-width="1.0"/>
<circle cx="116.48" cy="373.94" r="1.35" fill="#3f93e4" stroke="#3f93e4" stroke-width="0.6"/>
<circle cx="116.48" cy="376.41" r="1.35" fill="#3f93e4" stroke="#3f93e4" stroke-width="0.6"/>
<circle cx="116.48" cy="378.52" r="1.35" fill="#3f93e4" stroke="#3f93e4" stroke-width="0.6"/>
<circle cx="116.48" cy="371.86" r="1.55" fill="#f21d1d"/>
<path d="M114.08 371.36H118.88M116.48 368.96V373.76" stroke="#262626" stroke-width="1.0"/>
<circle cx="127.73" cy="372.88" r="1.35" fill="white" stroke="#3f93e4" stroke-width="0.9"/>
<circle cx="127.73" cy="377.82" r="1.35" fill="#3f93e4" stroke="#3f93e4" stroke-width="0.6"/>
<circle cx="127.73" cy="380.29" r="1.35" fill="white" stroke="#3f93e4" stroke-width="0.9"/>
<circle cx="127.73" cy="357.00" r="1.55" fill="#f21d1d"/>
<path d="M125.33 365.01H130.13M127.73 362.61V367.41" stroke="#262626" stroke-width="1.0"/>
<path d="M125.33 367.94H130.13M127.73 365.54V370.34" stroke="#262626" stroke-width="1.0"/>
<path d="M125.33 376.12H130.13M127.73 373.72V378.52" stroke="#262626" stroke-width="1.0"/>
<circle cx="138.98" cy="375.35" r="1.35" fill="#3f93e4" stroke="#3f93e4" stroke-width="0.6"/>
<circle cx="138.98" cy="377.11" r="1.35" fill="#3f93e4" stroke="#3f93e4" stroke-width="0.6"/>
<circle cx="138.98" cy="378.52" r="1.35" fill="#3f93e4" stroke="#3f93e4" stroke-width="0.6"/>
<circle cx="138.98" cy="359.40" r="1.55" fill="#f21d1d"/>
<path d="M136.58 352.55H141.38M138.98 350.15V354.95" stroke="#262626" stroke-width="1.0"/>
<path d="M136.58 366.21H141.38M138.98 363.81V368.61" stroke="#262626" stroke-width="1.0"/>
<path d="M136.58 374.43H141.38M138.98 372.03V376.83" stroke="#262626" stroke-width="1.0"/>
<circle cx="150.23" cy="375.70" r="1.35" fill="#3f93e4" stroke="#3f93e4" stroke-width="0.6"/>
<circle cx="150.23" cy="359.89" r="1.55" fill="#f21d1d"/>
<path d="M147.83 346.24H152.63M150.23 343.84V348.64" stroke="#262626" stroke-width="1.0"/>
<path d="M147.83 355.98H152.63M150.23 353.58V358.38" stroke="#262626" stroke-width="1.0"/>
<path d="M147.83 368.43H152.63M150.23 366.03V370.83" stroke="#262626" stroke-width="1.0"/>
<circle cx="161.48" cy="374.29" r="1.35" fill="#3f93e4" stroke="#3f93e4" stroke-width="0.6"/>
<circle cx="161.48" cy="376.41" r="1.35" fill="#3f93e4" stroke="#3f93e4" stroke-width="0.6"/>
<circle cx="161.48" cy="355.98" r="1.55" fill="#f21d1d"/>
<path d="M159.08 360.74H163.88M161.48 358.34V363.14" stroke="#262626" stroke-width="1.0"/>
<path d="M159.08 373.06H163.88M161.48 370.66V375.45" stroke="#262626" stroke-width="1.0"/>
</g>
<rect x="210.90" y="333.60" width="148.60" height="73.40" fill="none" stroke="#747474" stroke-width="1.45"/>
<text x="206.50" y="336.00" font-size="7.2" stroke="#1a1a1a" stroke-width="0.12" text-anchor="end">5</text>
<path d="M210.90 344.09h2.6" stroke="#747474" stroke-width="0.9"/>
<text x="206.50" y="346.49" font-size="7.2" stroke="#1a1a1a" stroke-width="0.12" text-anchor="end">2</text>
<path d="M210.90 354.57h2.6" stroke="#747474" stroke-width="0.9"/>
<text x="206.50" y="356.97" font-size="7.2" stroke="#1a1a1a" stroke-width="0.12" text-anchor="end">-1</text>
<path d="M210.90 365.06h2.6" stroke="#747474" stroke-width="0.9"/>
<text x="206.50" y="367.46" font-size="7.2" stroke="#1a1a1a" stroke-width="0.12" text-anchor="end">-4</text>
<path d="M210.90 375.54h2.6" stroke="#747474" stroke-width="0.9"/>
<text x="206.50" y="377.94" font-size="7.2" stroke="#1a1a1a" stroke-width="0.12" text-anchor="end">-7</text>
<path d="M210.90 386.03h2.6" stroke="#747474" stroke-width="0.9"/>
<text x="206.50" y="388.43" font-size="7.2" stroke="#1a1a1a" stroke-width="0.12" text-anchor="end">-10</text>
<path d="M210.90 396.51h2.6" stroke="#747474" stroke-width="0.9"/>
<text x="206.50" y="398.91" font-size="7.2" stroke="#1a1a1a" stroke-width="0.12" text-anchor="end">-13</text>
<text x="206.50" y="409.40" font-size="7.2" stroke="#1a1a1a" stroke-width="0.12" text-anchor="end">-16</text>
<text x="210.90" y="419.00" font-size="7.2" stroke="#1a1a1a" stroke-width="0.12" text-anchor="middle">0</text>
<text x="229.47" y="419.00" font-size="7.2" stroke="#1a1a1a" stroke-width="0.12" text-anchor="middle">50</text>
<text x="248.05" y="419.00" font-size="7.2" stroke="#1a1a1a" stroke-width="0.12" text-anchor="middle">100</text>
<text x="266.62" y="419.00" font-size="7.2" stroke="#1a1a1a" stroke-width="0.12" text-anchor="middle">150</text>
<text x="285.20" y="419.00" font-size="7.2" stroke="#1a1a1a" stroke-width="0.12" text-anchor="middle">200</text>
<text x="303.77" y="419.00" font-size="7.2" stroke="#1a1a1a" stroke-width="0.12" text-anchor="middle">250</text>
<text x="322.35" y="419.00" font-size="7.2" stroke="#1a1a1a" stroke-width="0.12" text-anchor="middle">300</text>
<text x="340.93" y="419.00" font-size="7.2" stroke="#1a1a1a" stroke-width="0.12" text-anchor="middle">350</text>
<text x="359.50" y="419.00" font-size="7.2" stroke="#1a1a1a" stroke-width="0.12" text-anchor="middle">400</text>
<text x="190.10" y="419.30" font-size="9.6">day</text>
<text transform="translate(197.30 367.40) rotate(-90)" font-size="9.0" text-anchor="middle">&#948;<tspan font-size="5.4" dy="-3.0">18</tspan><tspan dy="3.0">O (&#8240;)</tspan></text>
<clipPath id="ch"><rect x="210.90" y="333.60" width="148.60" height="73.40"/></clipPath>
<g clip-path="url(#ch)">
<polyline points="210.90,363.56 212.14,364.25 213.38,364.98 214.62,365.75 215.85,366.56 217.09,367.41 218.33,368.30 219.57,369.22 220.81,370.17 222.05,371.14 223.28,372.14 224.52,373.16 225.76,374.19 227.00,375.24 228.24,376.29 229.47,377.36 230.71,378.42 231.95,379.48 233.19,380.54 234.43,381.59 235.67,382.63 236.91,383.66 238.14,384.67 239.38,385.65 240.62,386.61 241.86,387.55 243.10,388.45 244.34,389.32 245.57,390.15 246.81,390.94 248.05,391.69 249.29,392.39 250.53,393.05 251.77,393.66 253.00,394.21 254.24,394.72 255.48,395.17 256.72,395.56 257.96,395.90 259.19,396.18 260.43,396.40 261.67,396.55 262.91,396.65 264.15,396.69 265.39,396.66 266.62,396.58 267.86,396.43 269.10,396.23 270.34,395.96 271.58,395.64 272.82,395.25 274.06,394.82 275.29,394.32 276.53,393.78 277.77,393.18 279.01,392.53 280.25,391.83 281.49,391.09 282.72,390.31 283.96,389.49 285.20,388.63 286.44,387.73 287.68,386.81 288.92,385.85 290.15,384.87 291.39,383.87 292.63,382.85 293.87,381.81 295.11,380.76 296.35,379.70 297.58,378.64 298.82,377.57 300.06,376.51 301.30,375.45 302.54,374.40 303.77,373.37 305.01,372.35 306.25,371.34 307.49,370.36 308.73,369.41 309.97,368.49 311.21,367.59 312.44,366.73 313.68,365.91 314.92,365.13 316.16,364.39 317.40,363.70 318.63,363.05 319.87,362.46 321.11,361.91 322.35,361.42 323.59,360.99 324.83,360.61 326.06,360.28 327.30,360.02 328.54,359.82 329.78,359.67 331.02,359.59 332.26,359.57 333.50,359.61 334.73,359.71 335.97,359.87 337.21,360.09 338.45,360.37 339.69,360.71 340.93,361.11 342.16,361.56 343.40,362.07 344.64,362.63 345.88,363.24 347.12,363.90 348.36,364.61 349.59,365.36 350.83,366.15 352.07,366.98 353.31,367.85 354.55,368.75 355.78,369.69 357.02,370.65 358.26,371.64 359.50,372.65" fill="none" stroke="#f21d1d" stroke-width="1.25"/>
<polyline points="210.90,366.23 212.14,366.09 213.38,365.98 214.62,365.90 215.85,365.84 217.09,365.80 218.33,365.79 219.57,365.81 220.81,365.85 222.05,365.91 223.28,366.00 224.52,366.11 225.76,366.25 227.00,366.41 228.24,366.59 229.47,366.80 230.71,367.03 231.95,367.28 233.19,367.55 234.43,367.84 235.67,368.14 236.91,368.47 238.14,368.81 239.38,369.16 240.62,369.53 241.86,369.92 243.10,370.31 244.34,370.72 245.57,371.13 246.81,371.55 248.05,371.98 249.29,372.41 250.53,372.84 251.77,373.28 253.00,373.72 254.24,374.15 255.48,374.59 256.72,375.02 257.96,375.44 259.19,375.86 260.43,376.27 261.67,376.67 262.91,377.06 264.15,377.44 265.39,377.80 266.62,378.15 267.86,378.48 269.10,378.80 270.34,379.10 271.58,379.38 272.82,379.64 274.06,379.89 275.29,380.11 276.53,380.30 277.77,380.48 279.01,380.63 280.25,380.76 281.49,380.86 282.72,380.94 283.96,381.00 285.20,381.02 286.44,381.03 287.68,381.01 288.92,380.96 290.15,380.89 291.39,380.80 292.63,380.68 293.87,380.53 295.11,380.37 296.35,380.18 297.58,379.97 298.82,379.73 300.06,379.48 301.30,379.20 302.54,378.91 303.77,378.60 305.01,378.27 306.25,377.93 307.49,377.57 308.73,377.19 309.97,376.81 311.21,376.41 312.44,376.00 313.68,375.59 314.92,375.17 316.16,374.74 317.40,374.31 318.63,373.87 319.87,373.43 321.11,373.00 322.35,372.56 323.59,372.13 324.83,371.70 326.06,371.28 327.30,370.86 328.54,370.45 329.78,370.05 331.02,369.67 332.26,369.29 333.50,368.93 334.73,368.59 335.97,368.26 337.21,367.94 338.45,367.65 339.69,367.37 340.93,367.11 342.16,366.88 343.40,366.66 344.64,366.47 345.88,366.30 347.12,366.16 348.36,366.04 349.59,365.94 350.83,365.86 352.07,365.82 353.31,365.79 354.55,365.80 355.78,365.82 357.02,365.87 358.26,365.95 359.50,366.05" fill="none" stroke="#404040" stroke-width="1.25"/>
<polyline points="210.90,375.95 212.14,375.82 213.38,375.69 214.62,375.56 215.85,375.44 217.09,375.32 218.33,375.20 219.57,375.09 220.81,374.98 222.05,374.87 223.28,374.77 224.52,374.68 225.76,374.59 227.00,374.51 228.24,374.43 229.47,374.37 230.71,374.30 231.95,374.25 233.19,374.20 234.43,374.16 235.67,374.13 236.91,374.10 238.14,374.09 239.38,374.08 240.62,374.08 241.86,374.08 243.10,374.10 244.34,374.12 245.57,374.15 246.81,374.18 248.05,374.23 249.29,374.28 250.53,374.34 251.77,374.41 253.00,374.48 254.24,374.56 255.48,374.64 256.72,374.73 257.96,374.83 259.19,374.93 260.43,375.04 261.67,375.15 262.91,375.27 264.15,375.39 265.39,375.51 266.62,375.64 267.86,375.77 269.10,375.90 270.34,376.03 271.58,376.17 272.82,376.30 274.06,376.44 275.29,376.58 276.53,376.71 277.77,376.85 279.01,376.98 280.25,377.11 281.49,377.24 282.72,377.37 283.96,377.50 285.20,377.62 286.44,377.73 287.68,377.85 288.92,377.95 290.15,378.06 291.39,378.15 292.63,378.25 293.87,378.33 295.11,378.41 296.35,378.49 297.58,378.55 298.82,378.61 300.06,378.67 301.30,378.71 302.54,378.75 303.77,378.78 305.01,378.80 306.25,378.82 307.49,378.83 308.73,378.83 309.97,378.82 311.21,378.80 312.44,378.78 313.68,378.75 314.92,378.71 316.16,378.66 317.40,378.61 318.63,378.55 319.87,378.48 321.11,378.41 322.35,378.33 323.59,378.24 324.83,378.15 326.06,378.05 327.30,377.94 328.54,377.84 329.78,377.72 331.02,377.60 332.26,377.48 333.50,377.36 334.73,377.23 335.97,377.10 337.21,376.97 338.45,376.84 339.69,376.70 340.93,376.56 342.16,376.43 343.40,376.29 344.64,376.16 345.88,376.02 347.12,375.89 348.36,375.76 349.59,375.63 350.83,375.50 352.07,375.38 353.31,375.26 354.55,375.14 355.78,375.03 357.02,374.92 358.26,374.82 359.50,374.72" fill="none" stroke="#5aa8ec" stroke-width="1.25"/>
<circle cx="222.19" cy="374.60" r="1.35" fill="#3f93e4" stroke="#3f93e4" stroke-width="0.6"/>
<circle cx="222.19" cy="376.80" r="1.35" fill="#3f93e4" stroke="#3f93e4" stroke-width="0.6"/>
<circle cx="222.19" cy="382.60" r="1.55" fill="#f21d1d"/>
<path d="M219.79 339.89H224.59M222.19 337.49V342.29" stroke="#262626" stroke-width="1.0"/>
<path d="M219.79 360.90H224.59M222.19 358.50V363.30" stroke="#262626" stroke-width="1.0"/>
<path d="M219.79 368.94H224.59M222.19 366.54V371.34" stroke="#262626" stroke-width="1.0"/>
<circle cx="233.49" cy="372.05" r="1.35" fill="#3f93e4" stroke="#3f93e4" stroke-width="0.6"/>
<circle cx="233.49" cy="374.49" r="1.35" fill="#3f93e4" stroke="#3f93e4" stroke-width="0.6"/>
<circle cx="233.49" cy="375.89" r="1.35" fill="#3f93e4" stroke="#3f93e4" stroke-width="0.6"/>
<circle cx="233.49" cy="381.41" r="1.55" fill="#f21d1d"/>
<path d="M231.09 366.04H235.89M233.49 363.64V368.44" stroke="#262626" stroke-width="1.0"/>
<path d="M231.09 367.75H235.89M233.49 365.35V370.15" stroke="#262626" stroke-width="1.0"/>
<circle cx="244.78" cy="366.04" r="1.35" fill="white" stroke="#3f93e4" stroke-width="0.9"/>
<circle cx="244.78" cy="367.85" r="1.35" fill="#3f93e4" stroke="#3f93e4" stroke-width="0.6"/>
<circle cx="244.78" cy="373.80" r="1.35" fill="#3f93e4" stroke="#3f93e4" stroke-width="0.6"/>
<circle cx="244.78" cy="375.54" r="1.35" fill="#3f93e4" stroke="#3f93e4" stroke-width="0.6"/>
<circle cx="244.78" cy="393.89" r="1.55" fill="#f21d1d"/>
<path d="M242.38 371.17H247.18M244.78 368.77V373.57" stroke="#262626" stroke-width="1.0"/>
<path d="M242.38 372.05H247.18M244.78 369.65V374.45" stroke="#262626" stroke-width="1.0"/>
<circle cx="256.07" cy="372.89" r="1.35" fill="#3f93e4" stroke="#3f93e4" stroke-width="0.6"/>
<circle cx="256.07" cy="374.84" r="1.35" fill="#3f93e4" stroke="#3f93e4" stroke-width="0.6"/>
<circle cx="256.07" cy="393.02" r="1.55" fill="#f21d1d"/>
<path d="M253.67 376.80H258.47M256.07 374.40V379.20" stroke="#262626" stroke-width="1.0"/>
<path d="M253.67 380.93H258.47M256.07 378.53V383.33" stroke="#262626" stroke-width="1.0"/>
<path d="M253.67 393.37H258.47M256.07 390.97V395.77" stroke="#262626" stroke-width="1.0"/>
<circle cx="267.37" cy="374.60" r="1.35" fill="#3f93e4" stroke="#3f93e4" stroke-width="0.6"/>
<circle cx="267.37" cy="376.24" r="1.35" fill="#3f93e4" stroke="#3f93e4" stroke-width="0.6"/>
<circle cx="267.37" cy="392.18" r="1.55" fill="#f21d1d"/>
<path d="M264.97 376.80H269.77M267.37 374.40V379.20" stroke="#262626" stroke-width="1.0"/>
<path d="M264.97 381.94H269.77M267.37 379.54V384.34" stroke="#262626" stroke-width="1.0"/>
<circle cx="278.66" cy="375.54" r="1.35" fill="#3f93e4" stroke="#3f93e4" stroke-width="0.6"/>
<circle cx="278.66" cy="376.94" r="1.35" fill="#3f93e4" stroke="#3f93e4" stroke-width="0.6"/>
<circle cx="278.66" cy="404.17" r="1.55" fill="#f21d1d"/>
<path d="M276.26 372.05H281.06M278.66 369.65V374.45" stroke="#262626" stroke-width="1.0"/>
<path d="M276.26 379.21H281.06M278.66 376.81V381.61" stroke="#262626" stroke-width="1.0"/>
<circle cx="289.96" cy="377.50" r="1.35" fill="#3f93e4" stroke="#3f93e4" stroke-width="0.6"/>
<circle cx="289.96" cy="386.03" r="1.55" fill="#f21d1d"/>
<path d="M287.56 375.79H292.36M289.96 373.39V378.19" stroke="#262626" stroke-width="1.0"/>
<circle cx="301.25" cy="377.99" r="1.35" fill="#3f93e4" stroke="#3f93e4" stroke-width="0.6"/>
<circle cx="301.25" cy="379.04" r="1.35" fill="#3f93e4" stroke="#3f93e4" stroke-width="0.6"/>
<circle cx="301.25" cy="373.73" r="1.55" fill="#f21d1d"/>
<path d="M298.85 379.70H303.65M301.25 377.30V382.10" stroke="#262626" stroke-width="1.0"/>
<circle cx="312.54" cy="376.59" r="1.35" fill="#3f93e4" stroke="#3f93e4" stroke-width="0.6"/>
<circle cx="312.54" cy="378.69" r="1.35" fill="#3f93e4" stroke="#3f93e4" stroke-width="0.6"/>
<circle cx="312.54" cy="363.83" r="1.55" fill="#f21d1d"/>
<path d="M310.14 376.28H314.94M312.54 373.88V378.68" stroke="#262626" stroke-width="1.0"/>
<circle cx="323.84" cy="375.54" r="1.35" fill="#3f93e4" stroke="#3f93e4" stroke-width="0.6"/>
<circle cx="323.84" cy="377.64" r="1.35" fill="#3f93e4" stroke="#3f93e4" stroke-width="0.6"/>
<circle cx="323.84" cy="361.77" r="1.55" fill="#f21d1d"/>
<path d="M321.44 374.60H326.24M323.84 372.20V377.00" stroke="#262626" stroke-width="1.0"/>
<circle cx="335.13" cy="375.19" r="1.35" fill="#3f93e4" stroke="#3f93e4" stroke-width="0.6"/>
<circle cx="335.13" cy="377.29" r="1.35" fill="#3f93e4" stroke="#3f93e4" stroke-width="0.6"/>
<circle cx="335.13" cy="360.41" r="1.55" fill="#f21d1d"/>
<path d="M332.73 367.75H337.53M335.13 365.35V370.15" stroke="#262626" stroke-width="1.0"/>
<path d="M332.73 373.73H337.53M335.13 371.33V376.13" stroke="#262626" stroke-width="1.0"/>
<circle cx="346.42" cy="375.19" r="1.35" fill="#3f93e4" stroke="#3f93e4" stroke-width="0.6"/>
<circle cx="346.42" cy="377.99" r="1.35" fill="#3f93e4" stroke="#3f93e4" stroke-width="0.6"/>
<circle cx="346.42" cy="358.00" r="1.55" fill="#f21d1d"/>
<path d="M344.02 372.05H348.82M346.42 369.65V374.45" stroke="#262626" stroke-width="1.0"/>
</g>
<text x="6.1" y="16.0" font-size="9.1" font-weight="bold" fill="#262626" textLength="78.1" lengthAdjust="spacingAndGlyphs">(a) The Spring water</text>
<text x="189.5" y="15.6" font-size="9.1" font-weight="bold" fill="#262626" textLength="98.3" lengthAdjust="spacingAndGlyphs">(b) The ascending springs</text>
<text x="382.3" y="11.2" font-size="9.1" font-weight="bold" fill="#262626" textLength="97.2" lengthAdjust="spacingAndGlyphs">(c) The ascending springs</text>
<text x="389.8" y="20.2" font-size="9.1" font-weight="bold" fill="#262626" textLength="84.5" lengthAdjust="spacingAndGlyphs">(altitude: 1600-1700 m)</text>
<text x="10.2" y="164.8" font-size="9.1" font-weight="bold" fill="#262626" textLength="98.0" lengthAdjust="spacingAndGlyphs">(d) The ascending springs</text>
<text x="25.4" y="174.2" font-size="9.1" font-weight="bold" fill="#262626" textLength="69.7" lengthAdjust="spacingAndGlyphs">(altitude: &lt;1600 m)</text>
<text x="191.7" y="169.2" font-size="9.1" font-weight="bold" fill="#262626" textLength="101.5" lengthAdjust="spacingAndGlyphs">(e) The descending springs</text>
<text x="379.1" y="164.8" font-size="9.1" font-weight="bold" fill="#262626" textLength="101.3" lengthAdjust="spacingAndGlyphs">(f) The descending springs</text>
<text x="395.4" y="173.6" font-size="9.1" font-weight="bold" fill="#262626" textLength="69.7" lengthAdjust="spacingAndGlyphs">(altitude: &gt;1700 m)</text>
<text x="16.1" y="319.8" font-size="9.1" font-weight="bold" fill="#262626" textLength="101.9" lengthAdjust="spacingAndGlyphs">(g) The descending springs</text>
<text x="25.4" y="329.2" font-size="9.1" font-weight="bold" fill="#262626" textLength="83.9" lengthAdjust="spacingAndGlyphs">(altitude: 1600-1700 m)</text>
<text x="193.9" y="322.0" font-size="9.1" font-weight="bold" fill="#262626" textLength="102.6" lengthAdjust="spacingAndGlyphs">(h) The descending springs</text>
<text x="212.0" y="331.4" font-size="9.1" font-weight="bold" fill="#262626" textLength="69.2" lengthAdjust="spacingAndGlyphs">(altitude: &lt;1600 m)</text>
<path d="M4.2 117.5H25.1" stroke="#f33a3a" stroke-width="1.2"/>
<g><text x="28.4" y="120.3" font-size="7.6" fill="#222" textLength="142.2" lengthAdjust="spacingAndGlyphs">&#948;<tspan font-size="4.6" dy="-2.3">18</tspan><tspan dy="2.3">O=&#8722;5.44cos(0.017214&#215;t+3.84)&#8722;7.80,R</tspan><tspan font-size="4.6" dy="-2.3">2</tspan><tspan dy="2.3">=0.85</tspan></text></g>
<path d="M4.2 128.4H25.1" stroke="#4a4a4a" stroke-width="1.2"/>
<g><text x="28.4" y="131.9" font-size="7.6" fill="#222" textLength="138.0" lengthAdjust="spacingAndGlyphs">&#948;<tspan font-size="4.6" dy="-2.3">18</tspan><tspan dy="2.3">O=3.41cos(0.017214&#215;t&#8722;0.02)&#8722;5.41,R</tspan><tspan font-size="4.6" dy="-2.3">2</tspan><tspan dy="2.3">=0.55</tspan></text></g>
<path d="M4.2 139.8H25.1" stroke="#6ab0ee" stroke-width="1.2"/>
<g><text x="28.4" y="143.1" font-size="7.6" fill="#222" textLength="137.2" lengthAdjust="spacingAndGlyphs">&#948;<tspan font-size="4.6" dy="-2.3">18</tspan><tspan dy="2.3">O=0.35cos(0.017214&#215;t&#8722;1.32)&#8722;7.29,R</tspan><tspan font-size="4.6" dy="-2.3">2</tspan><tspan dy="2.3">=0.05</tspan></text></g>
<path d="M186.0 118.5H207.6" stroke="#f33a3a" stroke-width="1.2"/>
<g><text x="211.1" y="120.7" font-size="7.6" fill="#222" textLength="138.5" lengthAdjust="spacingAndGlyphs">&#948;<tspan font-size="4.6" dy="-2.3">18</tspan><tspan dy="2.3">O=&#8722;5.36cos(0.017214&#215;t+3.84)&#8722;7.63,R</tspan><tspan font-size="4.6" dy="-2.3">2</tspan><tspan dy="2.3">=0.85</tspan></text></g>
<path d="M186.0 129.2H207.6" stroke="#4a4a4a" stroke-width="1.2"/>
<g><text x="211.1" y="132.5" font-size="7.6" fill="#222" textLength="138.5" lengthAdjust="spacingAndGlyphs">&#948;<tspan font-size="4.6" dy="-2.3">18</tspan><tspan dy="2.3">O=3.41cos(0.017214&#215;t&#8722;0.08)&#8722;5.83,R</tspan><tspan font-size="4.6" dy="-2.3">2</tspan><tspan dy="2.3">=0.48</tspan></text></g>
<path d="M186.0 139.5H207.6" stroke="#6ab0ee" stroke-width="1.2"/>
<g><text x="211.1" y="144.1" font-size="7.6" fill="#222" textLength="137.8" lengthAdjust="spacingAndGlyphs">&#948;<tspan font-size="4.6" dy="-2.3">18</tspan><tspan dy="2.3">O=0.31cos(0.017214&#215;t&#8722;2.30)&#8722;6.34,R</tspan><tspan font-size="4.6" dy="-2.3">2</tspan><tspan dy="2.3">=0.11</tspan></text></g>
<path d="M368.6 118.8H389.4" stroke="#f33a3a" stroke-width="1.2"/>
<g><text x="392.8" y="120.2" font-size="7.6" fill="#222" textLength="142.0" lengthAdjust="spacingAndGlyphs">&#948;<tspan font-size="4.6" dy="-2.3">18</tspan><tspan dy="2.3">O=&#8722;5.42cos(0.017214&#215;t+3.84)&#8722;7.53,R</tspan><tspan font-size="4.6" dy="-2.3">2</tspan><tspan dy="2.3">=0.83</tspan></text></g>
<path d="M368.6 129.5H389.4" stroke="#4a4a4a" stroke-width="1.2"/>
<g><text x="392.8" y="132.3" font-size="7.6" fill="#222" textLength="139.1" lengthAdjust="spacingAndGlyphs">&#948;<tspan font-size="4.6" dy="-2.3">18</tspan><tspan dy="2.3">O=6.10cos(0.017214&#215;t+6.40)&#8722;3.92,R</tspan><tspan font-size="4.6" dy="-2.3">2</tspan><tspan dy="2.3">=0.88</tspan></text></g>
<path d="M368.6 139.5H389.4" stroke="#6ab0ee" stroke-width="1.2"/>
<g><text x="392.8" y="143.8" font-size="7.6" fill="#222" textLength="142.5" lengthAdjust="spacingAndGlyphs">&#948;<tspan font-size="4.6" dy="-2.3">18</tspan><tspan dy="2.3">O=&#8722;0.17cos(0.017214&#215;t&#8722;0.09)&#8722;6.78,R</tspan><tspan font-size="4.6" dy="-2.3">2</tspan><tspan dy="2.3">=0.52</tspan></text></g>
<path d="M4.3 270.9H25.0" stroke="#f33a3a" stroke-width="1.2"/>
<g><text x="27.6" y="273.6" font-size="7.6" fill="#222" textLength="142.5" lengthAdjust="spacingAndGlyphs">&#948;<tspan font-size="4.6" dy="-2.3">18</tspan><tspan dy="2.3">O=&#8722;5.31cos(0.017214&#215;t+3.81)&#8722;7.74,R</tspan><tspan font-size="4.6" dy="-2.3">2</tspan><tspan dy="2.3">=0.86</tspan></text></g>
<path d="M4.3 281.8H25.0" stroke="#4a4a4a" stroke-width="1.2"/>
<g><text x="27.6" y="284.0" font-size="7.6" fill="#222" textLength="142.9" lengthAdjust="spacingAndGlyphs">&#948;<tspan font-size="4.6" dy="-2.3">18</tspan><tspan dy="2.3">O=&#8722;4.06cos(0.017214&#215;t+3.36)&#8722;4.00,R</tspan><tspan font-size="4.6" dy="-2.3">2</tspan><tspan dy="2.3">=0.74</tspan></text></g>
<path d="M4.3 292.7H25.0" stroke="#6ab0ee" stroke-width="1.2"/>
<g><text x="27.6" y="294.9" font-size="7.6" fill="#222" textLength="139.6" lengthAdjust="spacingAndGlyphs">&#948;<tspan font-size="4.6" dy="-2.3">18</tspan><tspan dy="2.3">O=0.42cos(0.017214&#215;t&#8722;2.14)&#8722;6.16,R</tspan><tspan font-size="4.6" dy="-2.3">2</tspan><tspan dy="2.3">=0.16</tspan></text></g>
<path d="M187.3 271.4H208.0" stroke="#f33a3a" stroke-width="1.2"/>
<g><text x="209.7" y="274.8" font-size="7.6" fill="#222" textLength="138.7" lengthAdjust="spacingAndGlyphs">&#948;<tspan font-size="4.6" dy="-2.3">18</tspan><tspan dy="2.3">O=2.91cos(0.017214&#215;t&#8722;0.15)&#8722;6.03,R</tspan><tspan font-size="4.6" dy="-2.3">2</tspan><tspan dy="2.3">=0.55</tspan></text></g>
<path d="M187.3 282.3H208.0" stroke="#4a4a4a" stroke-width="1.2"/>
<g><text x="209.7" y="284.5" font-size="7.6" fill="#222" textLength="141.3" lengthAdjust="spacingAndGlyphs">&#948;<tspan font-size="4.6" dy="-2.3">18</tspan><tspan dy="2.3">O=&#8722;5.44cos(0.017214&#215;t+3.84)&#8722;7.80,R</tspan><tspan font-size="4.6" dy="-2.3">2</tspan><tspan dy="2.3">=0.85</tspan></text></g>
<path d="M187.3 293.3H208.0" stroke="#6ab0ee" stroke-width="1.2"/>
<g><text x="209.7" y="298.4" font-size="7.6" fill="#222" textLength="138.7" lengthAdjust="spacingAndGlyphs">&#948;<tspan font-size="4.6" dy="-2.3">18</tspan><tspan dy="2.3">O=0.44cos(0.017214&#215;t&#8722;1.06)&#8722;7.69,R</tspan><tspan font-size="4.6" dy="-2.3">2</tspan><tspan dy="2.3">=0.12</tspan></text></g>
<path d="M372.8 274.3H393.5" stroke="#f33a3a" stroke-width="1.2"/>
<g><text x="397.8" y="277.7" font-size="7.6" fill="#222" textLength="142.2" lengthAdjust="spacingAndGlyphs">&#948;<tspan font-size="4.6" dy="-2.3">18</tspan><tspan dy="2.3">O=&#8722;5.60cos(0.017214&#215;t+3.84)&#8722;8.13,R</tspan><tspan font-size="4.6" dy="-2.3">2</tspan><tspan dy="2.3">=0.87</tspan></text></g>
<path d="M372.8 284.7H393.5" stroke="#4a4a4a" stroke-width="1.2"/>
<g><text x="397.8" y="287.5" font-size="7.6" fill="#222" textLength="139.2" lengthAdjust="spacingAndGlyphs">&#948;<tspan font-size="4.6" dy="-2.3">18</tspan><tspan dy="2.3">O=0.21cos(0.017214&#215;t&#8722;0.86)&#8722;9.34,R</tspan><tspan font-size="4.6" dy="-2.3">2</tspan><tspan dy="2.3">=0.88</tspan></text></g>
<path d="M372.8 295.1H393.5" stroke="#6ab0ee" stroke-width="1.2"/>
<g><text x="397.8" y="298.3" font-size="7.6" fill="#222" textLength="142.7" lengthAdjust="spacingAndGlyphs">&#948;<tspan font-size="4.6" dy="-2.3">18</tspan><tspan dy="2.3">O=&#8722;4.27cos(0.017214&#215;t+2.90)&#8722;6.57,R</tspan><tspan font-size="4.6" dy="-2.3">2</tspan><tspan dy="2.3">=0.65</tspan></text></g>
<path d="M3.1 429.0H23.8" stroke="#f33a3a" stroke-width="1.2"/>
<g><text x="28.5" y="431.5" font-size="7.6" fill="#222" textLength="138.2" lengthAdjust="spacingAndGlyphs">&#948;<tspan font-size="4.6" dy="-2.3">18</tspan><tspan dy="2.3">O=&#8722;5.42cos(0.017214&#215;t+3.88)&#8722;7.53,R</tspan><tspan font-size="4.6" dy="-2.3">2</tspan><tspan dy="2.3">=0.8</tspan></text></g>
<path d="M3.1 439.4H23.8" stroke="#4a4a4a" stroke-width="1.2"/>
<g><text x="27.6" y="441.2" font-size="7.6" fill="#222" textLength="139.1" lengthAdjust="spacingAndGlyphs">&#948;<tspan font-size="4.6" dy="-2.3">18</tspan><tspan dy="2.3">O=3.29cos(0.017214&#215;t+0.02)&#8722;5.50,R</tspan><tspan font-size="4.6" dy="-2.3">2</tspan><tspan dy="2.3">=0.56</tspan></text></g>
<path d="M3.1 449.7H23.8" stroke="#6ab0ee" stroke-width="1.2"/>
<g><text x="28.5" y="451.1" font-size="7.6" fill="#222" textLength="138.2" lengthAdjust="spacingAndGlyphs">&#948;<tspan font-size="4.6" dy="-2.3">18</tspan><tspan dy="2.3">O=0.36cos(0.017214&#215;t&#8722;0.54)&#8722;7.57,R</tspan><tspan font-size="4.6" dy="-2.3">2</tspan><tspan dy="2.3">=0.29</tspan></text></g>
<path d="M194.7 424.2H215.4" stroke="#f33a3a" stroke-width="1.2"/>
<g><text x="218.0" y="427.8" font-size="7.6" fill="#222" textLength="141.6" lengthAdjust="spacingAndGlyphs">&#948;<tspan font-size="4.6" dy="-2.3">18</tspan><tspan dy="2.3">O=&#8722;5.31cos(0.017214&#215;t+3.81)&#8722;7.74,R</tspan><tspan font-size="4.6" dy="-2.3">2</tspan><tspan dy="2.3">=0.86</tspan></text></g>
<path d="M194.7 436.3H215.4" stroke="#4a4a4a" stroke-width="1.2"/>
<g><text x="218.0" y="439.9" font-size="7.6" fill="#222" textLength="138.2" lengthAdjust="spacingAndGlyphs">&#948;<tspan font-size="4.6" dy="-2.3">18</tspan><tspan dy="2.3">O=2.18cos(0.017214&#215;t&#8722;0.34)&#8722;6.39,R</tspan><tspan font-size="4.6" dy="-2.3">2</tspan><tspan dy="2.3">=0.53</tspan></text></g>
<path d="M194.7 448.3H215.4" stroke="#6ab0ee" stroke-width="1.2"/>
<g><text x="218.0" y="451.6" font-size="7.6" fill="#222" textLength="138.2" lengthAdjust="spacingAndGlyphs">&#948;<tspan font-size="4.6" dy="-2.3">18</tspan><tspan dy="2.3">O=0.68cos(0.017214&#215;t&#8722;1.36)&#8722;7.26,R</tspan><tspan font-size="4.6" dy="-2.3">2</tspan><tspan dy="2.3">=0.47</tspan></text></g>
<text x="462.1" y="338.0" font-size="9.2" stroke="#1a1a1a" stroke-width="0.3">Legend</text>
<circle cx="403.8" cy="346.7" r="1.5" fill="#f21d1d"/>
<text x="417.2" y="349.7" font-size="9.2">The &#948;<tspan font-size="5.5" dy="-3.2">18</tspan><tspan dy="3.2">O of precipitation</tspan></text>
<path d="M401.30 365.10H406.30M403.80 362.60V367.60" stroke="#262626" stroke-width="1.2"/>
<text x="417.2" y="368.0" font-size="9.2">The &#948;<tspan font-size="5.5" dy="-3.2">18</tspan><tspan dy="3.2">O of terraced field water</tspan></text>
<ellipse cx="403.8" cy="383.2" rx="1.6" ry="1.1" fill="white" stroke="#6aaee8" stroke-width="0.8"/>
<text x="417.2" y="386.0" font-size="9.2">The &#948;<tspan font-size="5.5" dy="-3.2">18</tspan><tspan dy="3.2">O of spring water</tspan></text>
<path d="M394.4 401.6H414.7" stroke="#f33a3a" stroke-width="1.2"/>
<text x="417.6" y="404.5" font-size="9.2">The sine-wave curves fitted to the</text>
<text x="419.0" y="413.3" font-size="9.2">&#948;<tspan font-size="5.5" dy="-3.2">18</tspan><tspan dy="3.2">O of precipitation</tspan></text>
<path d="M394.4 419.1H414.7" stroke="#4a4a4a" stroke-width="1.2"/>
<text x="417.6" y="422.0" font-size="9.2">The sine-wave curves fitted to the</text>
<text x="419.0" y="430.7" font-size="9.2">&#948;<tspan font-size="5.5" dy="-3.2">18</tspan><tspan dy="3.2">O of terraced field water</tspan></text>
<path d="M394.4 438.0H414.7" stroke="#6ab0ee" stroke-width="1.2"/>
<text x="417.6" y="440.9" font-size="9.2">The sine-wave curves fitted to the</text>
<text x="419.0" y="449.6" font-size="9.2">&#948;<tspan font-size="5.5" dy="-3.2">18</tspan><tspan dy="3.2">O of spring water</tspan></text></svg>
</body></html>
